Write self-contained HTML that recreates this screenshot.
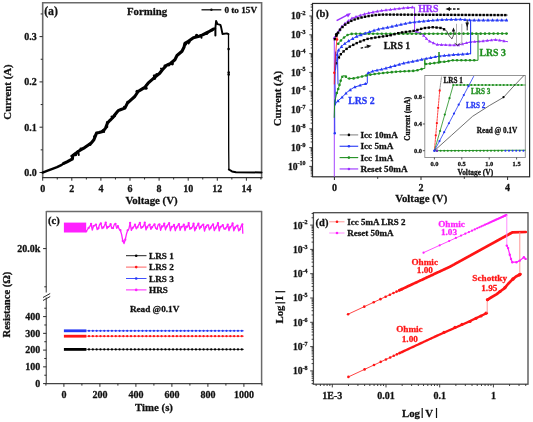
<!DOCTYPE html>
<html><head><meta charset="utf-8"><style>
html,body{margin:0;padding:0;background:#fff;}
svg{display:block;filter:blur(0.35px);font-family:"Liberation Serif",serif;font-weight:bold;}
text{stroke-width:0.28px;}
</style></head><body>
<svg width="533" height="422" viewBox="0 0 533 422">
<rect width="533" height="422" fill="#fff"/>
<line x1="42.7" y1="2.8" x2="261.6" y2="2.8" stroke="#6a6a6a" stroke-width="1.6" />
<line x1="42.7" y1="2" x2="42.7" y2="177.5" stroke="#6a6a6a" stroke-width="1.6" />
<line x1="261.6" y1="2" x2="261.6" y2="178.1" stroke="#6a6a6a" stroke-width="1.6" />
<line x1="42.1" y1="177.5" x2="262.4" y2="177.5" stroke="#333" stroke-width="1.25" />
<line x1="42.7" y1="177.5" x2="42.7" y2="180.7" stroke="#2a2a2a" stroke-width="1" />
<text x="42.7" y="191.6" font-size="10" text-anchor="middle" fill="#111" stroke="#111" >0</text>
<line x1="57.25" y1="177.5" x2="57.25" y2="179.5" stroke="#2a2a2a" stroke-width="1" />
<line x1="71.8" y1="177.5" x2="71.8" y2="180.7" stroke="#2a2a2a" stroke-width="1" />
<text x="71.8" y="191.6" font-size="10" text-anchor="middle" fill="#111" stroke="#111" >2</text>
<line x1="86.35" y1="177.5" x2="86.35" y2="179.5" stroke="#2a2a2a" stroke-width="1" />
<line x1="100.9" y1="177.5" x2="100.9" y2="180.7" stroke="#2a2a2a" stroke-width="1" />
<text x="100.9" y="191.6" font-size="10" text-anchor="middle" fill="#111" stroke="#111" >4</text>
<line x1="115.45" y1="177.5" x2="115.45" y2="179.5" stroke="#2a2a2a" stroke-width="1" />
<line x1="130" y1="177.5" x2="130" y2="180.7" stroke="#2a2a2a" stroke-width="1" />
<text x="130" y="191.6" font-size="10" text-anchor="middle" fill="#111" stroke="#111" >6</text>
<line x1="144.55" y1="177.5" x2="144.55" y2="179.5" stroke="#2a2a2a" stroke-width="1" />
<line x1="159.1" y1="177.5" x2="159.1" y2="180.7" stroke="#2a2a2a" stroke-width="1" />
<text x="159.1" y="191.6" font-size="10" text-anchor="middle" fill="#111" stroke="#111" >8</text>
<line x1="173.65" y1="177.5" x2="173.65" y2="179.5" stroke="#2a2a2a" stroke-width="1" />
<line x1="188.2" y1="177.5" x2="188.2" y2="180.7" stroke="#2a2a2a" stroke-width="1" />
<text x="188.2" y="191.6" font-size="10" text-anchor="middle" fill="#111" stroke="#111" >10</text>
<line x1="202.75" y1="177.5" x2="202.75" y2="179.5" stroke="#2a2a2a" stroke-width="1" />
<line x1="217.3" y1="177.5" x2="217.3" y2="180.7" stroke="#2a2a2a" stroke-width="1" />
<text x="217.3" y="191.6" font-size="10" text-anchor="middle" fill="#111" stroke="#111" >12</text>
<line x1="231.85" y1="177.5" x2="231.85" y2="179.5" stroke="#2a2a2a" stroke-width="1" />
<line x1="246.4" y1="177.5" x2="246.4" y2="180.7" stroke="#2a2a2a" stroke-width="1" />
<text x="246.4" y="191.6" font-size="10" text-anchor="middle" fill="#111" stroke="#111" >14</text>
<line x1="260.95" y1="177.5" x2="260.95" y2="179.5" stroke="#2a2a2a" stroke-width="1" />
<line x1="39.5" y1="172.5" x2="42.7" y2="172.5" stroke="#2a2a2a" stroke-width="1" />
<text x="36.7" y="175.8" font-size="10" text-anchor="end" fill="#111" stroke="#111" >0.0</text>
<line x1="40.7" y1="149.85" x2="42.7" y2="149.85" stroke="#2a2a2a" stroke-width="1" />
<line x1="39.5" y1="127.2" x2="42.7" y2="127.2" stroke="#2a2a2a" stroke-width="1" />
<text x="36.7" y="130.5" font-size="10" text-anchor="end" fill="#111" stroke="#111" >0.1</text>
<line x1="40.7" y1="104.55" x2="42.7" y2="104.55" stroke="#2a2a2a" stroke-width="1" />
<line x1="39.5" y1="81.9" x2="42.7" y2="81.9" stroke="#2a2a2a" stroke-width="1" />
<text x="36.7" y="85.2" font-size="10" text-anchor="end" fill="#111" stroke="#111" >0.2</text>
<line x1="40.7" y1="59.25" x2="42.7" y2="59.25" stroke="#2a2a2a" stroke-width="1" />
<line x1="39.5" y1="36.6" x2="42.7" y2="36.6" stroke="#2a2a2a" stroke-width="1" />
<text x="36.7" y="39.9" font-size="10" text-anchor="end" fill="#111" stroke="#111" >0.3</text>
<line x1="40.7" y1="13.95" x2="42.7" y2="13.95" stroke="#2a2a2a" stroke-width="1" />
<text x="44.2" y="15" font-size="11.8" text-anchor="start" fill="#111" stroke="#111" >(a)</text>
<text x="127" y="14.8" font-size="10.8" text-anchor="start" fill="#111" stroke="#111" >Forming</text>
<line x1="201.5" y1="9.8" x2="221.3" y2="9.8" stroke="#111" stroke-width="1.3" />
<circle cx="211.4" cy="9.8" r="1.2" fill="#111"/>
<text x="224.4" y="13" font-size="9.2" text-anchor="start" fill="#111" stroke="#111" >0 to 15V</text>
<text x="151.5" y="203.6" font-size="10.8" text-anchor="middle" fill="#111" stroke="#111" >Voltage (V)</text>
<text transform="translate(11.4,92.0) rotate(-90)" font-size="10.8" text-anchor="middle" fill="#111" stroke="#111">Current (A)</text>
<polyline points="42.6,172.6 47,170.9 53.1,168.6 57,167.2 61.7,164.9 63.7,163.4" fill="none" stroke="#000" stroke-width="2.4" stroke-linejoin="round" stroke-linecap="round" />
<polyline points="63.7,163.4 67,161.8 70.2,160.1 72.2,159.2 72.9,155.5 75.5,153.6 78.1,151.5 81,149.7 84.7,147.6 88,145.3 91.2,143 93.9,139.7 96.5,133.1 99,132.6 101.8,131.8 104.4,129.6 105.7,127.9 107.5,123 110,120.3 112.4,118 115.5,114 118.2,110.6 121,109.5 124.9,108.1 127.4,103.1 131,99.8 134.8,96.5 138.1,91.5 141.5,89.4 144.8,87.4 148.1,83.2 151.5,80.2 154.7,77.4 159.7,73.3 162.2,70 166.4,65.4 170.7,63.3 174.9,59.7 177,55.5 182,51.2 184.1,47 184.9,43.4 188.4,41.3 193.4,37.7 199.1,36.3 202.6,34.9 208.3,32 213.3,29.2" fill="none" stroke="#000" stroke-width="3.1" stroke-linejoin="round" stroke-linecap="round" />
<polyline points="213.3,29.2 215.4,27.8 216.1,20.9 217.5,24.2 220.4,24.9 221.1,27.1 222.5,34 226.8,33.4 228.5,34.2" fill="none" stroke="#000" stroke-width="1.9" stroke-linejoin="round" stroke-linecap="round" />
<circle cx="71.56" cy="156.04" r="1.2634693762442875" fill="#000"/>
<circle cx="75.35" cy="154.43" r="1.8875353945591447" fill="#000"/>
<circle cx="80.76" cy="148.77" r="1.221057812457352" fill="#000"/>
<circle cx="89.91" cy="144.45" r="1.6637146723232576" fill="#000"/>
<circle cx="94.29" cy="136.51" r="1.249156449691948" fill="#000"/>
<circle cx="103.95" cy="131.87" r="1.2511268406835885" fill="#000"/>
<circle cx="107.05" cy="126.65" r="1.261000938846519" fill="#000"/>
<circle cx="107.24" cy="122.16" r="1.2419253820587537" fill="#000"/>
<circle cx="114.49" cy="116" r="1.4945289320724946" fill="#000"/>
<circle cx="127.58" cy="102.11" r="1.263082021073351" fill="#000"/>
<circle cx="137.17" cy="91.54" r="1.7175970728716559" fill="#000"/>
<circle cx="144.57" cy="87.9" r="1.2726877769554636" fill="#000"/>
<circle cx="145.96" cy="88.18" r="1.6932056223908638" fill="#000"/>
<circle cx="154.45" cy="78.07" r="1.8421521249448025" fill="#000"/>
<circle cx="154.29" cy="75.86" r="1.5119938639875115" fill="#000"/>
<circle cx="156.74" cy="74.48" r="1.6005185960318564" fill="#000"/>
<circle cx="164.73" cy="65.63" r="1.2125259379472957" fill="#000"/>
<circle cx="168.77" cy="64.69" r="1.7113485866616975" fill="#000"/>
<circle cx="172.34" cy="63.86" r="1.5822667513597244" fill="#000"/>
<circle cx="185.47" cy="43.98" r="1.7145267060839349" fill="#000"/>
<circle cx="189.05" cy="41.76" r="1.6208996851847512" fill="#000"/>
<circle cx="196.63" cy="35.4" r="1.6746958853917617" fill="#000"/>
<circle cx="206.61" cy="33.42" r="1.5016266976490587" fill="#000"/>
<circle cx="211.88" cy="30.28" r="1.2953234284683086" fill="#000"/>
<polyline points="228.5,34.2 228.7,150 228.9,169.7" fill="none" stroke="#000" stroke-width="1.3" stroke-linejoin="round" stroke-linecap="round" />
<polyline points="228.9,169.5 232,171.4 236,172.3 261.5,172.4" fill="none" stroke="#000" stroke-width="2.0" stroke-linejoin="round" stroke-linecap="round" />
<polyline points="215.4,28.5 215.4,35.6" fill="none" stroke="#000" stroke-width="2.0" stroke-linejoin="round" stroke-linecap="round" />
<polyline points="78.1,151.5 78.8,155" fill="none" stroke="#000" stroke-width="2.0" stroke-linejoin="round" stroke-linecap="round" />
<polyline points="71,159.6 72.5,157.8" fill="none" stroke="#000" stroke-width="2.0" stroke-linejoin="round" stroke-linecap="round" />
<polyline points="112.4,118 111.5,116.5" fill="none" stroke="#000" stroke-width="2.0" stroke-linejoin="round" stroke-linecap="round" />
<polyline points="162.2,70 161,68.5" fill="none" stroke="#000" stroke-width="2.0" stroke-linejoin="round" stroke-linecap="round" />
<polyline points="124.9,108.1 124,106.8" fill="none" stroke="#000" stroke-width="2.0" stroke-linejoin="round" stroke-linecap="round" />
<polyline points="96.5,133.5 95.5,135" fill="none" stroke="#000" stroke-width="2.0" stroke-linejoin="round" stroke-linecap="round" />
<polyline points="201,35.8 201.5,37.8" fill="none" stroke="#000" stroke-width="2.0" stroke-linejoin="round" stroke-linecap="round" />
<polyline points="188,41.5 188.6,43.5" fill="none" stroke="#000" stroke-width="2.0" stroke-linejoin="round" stroke-linecap="round" />
<polyline points="146,86 146.8,84.5" fill="none" stroke="#000" stroke-width="2.0" stroke-linejoin="round" stroke-linecap="round" />
<circle cx="228.6" cy="49.1" r="1.3" fill="#000"/>
<circle cx="228.7" cy="72.5" r="1.3" fill="#000"/>
<circle cx="228.7" cy="74.5" r="1.3" fill="#000"/>
<circle cx="103.6" cy="130.3" r="1.3" fill="#000"/>
<circle cx="72.6" cy="158.3" r="1.3" fill="#000"/>
<rect x="312.5" y="3.45" width="217.1" height="173.35" fill="none" stroke="#2a2a2a" stroke-width="1.2"/>
<line x1="334.4" y1="176.8" x2="334.4" y2="180" stroke="#2a2a2a" stroke-width="1" />
<text x="334.4" y="191.2" font-size="10" text-anchor="middle" fill="#111" stroke="#111" >0</text>
<line x1="377.7" y1="176.8" x2="377.7" y2="178.8" stroke="#2a2a2a" stroke-width="1" />
<line x1="421" y1="176.8" x2="421" y2="180" stroke="#2a2a2a" stroke-width="1" />
<text x="421" y="191.2" font-size="10" text-anchor="middle" fill="#111" stroke="#111" >2</text>
<line x1="464.3" y1="176.8" x2="464.3" y2="178.8" stroke="#2a2a2a" stroke-width="1" />
<line x1="507.6" y1="176.8" x2="507.6" y2="180" stroke="#2a2a2a" stroke-width="1" />
<text x="507.6" y="191.2" font-size="10" text-anchor="middle" fill="#111" stroke="#111" >4</text>
<line x1="310.7" y1="176.23" x2="312.5" y2="176.23" stroke="#2a2a2a" stroke-width="0.9" />
<line x1="310.7" y1="173.88" x2="312.5" y2="173.88" stroke="#2a2a2a" stroke-width="0.9" />
<line x1="310.7" y1="172.06" x2="312.5" y2="172.06" stroke="#2a2a2a" stroke-width="0.9" />
<line x1="310.7" y1="170.57" x2="312.5" y2="170.57" stroke="#2a2a2a" stroke-width="0.9" />
<line x1="310.7" y1="169.31" x2="312.5" y2="169.31" stroke="#2a2a2a" stroke-width="0.9" />
<line x1="310.7" y1="168.22" x2="312.5" y2="168.22" stroke="#2a2a2a" stroke-width="0.9" />
<line x1="310.7" y1="167.26" x2="312.5" y2="167.26" stroke="#2a2a2a" stroke-width="0.9" />
<line x1="309.3" y1="166.4" x2="312.5" y2="166.4" stroke="#2a2a2a" stroke-width="0.9" />
<line x1="310.7" y1="160.74" x2="312.5" y2="160.74" stroke="#2a2a2a" stroke-width="0.9" />
<line x1="310.7" y1="157.43" x2="312.5" y2="157.43" stroke="#2a2a2a" stroke-width="0.9" />
<line x1="310.7" y1="155.08" x2="312.5" y2="155.08" stroke="#2a2a2a" stroke-width="0.9" />
<line x1="310.7" y1="153.26" x2="312.5" y2="153.26" stroke="#2a2a2a" stroke-width="0.9" />
<line x1="310.7" y1="151.77" x2="312.5" y2="151.77" stroke="#2a2a2a" stroke-width="0.9" />
<line x1="310.7" y1="150.51" x2="312.5" y2="150.51" stroke="#2a2a2a" stroke-width="0.9" />
<line x1="310.7" y1="149.42" x2="312.5" y2="149.42" stroke="#2a2a2a" stroke-width="0.9" />
<line x1="310.7" y1="148.46" x2="312.5" y2="148.46" stroke="#2a2a2a" stroke-width="0.9" />
<line x1="309.3" y1="147.6" x2="312.5" y2="147.6" stroke="#2a2a2a" stroke-width="0.9" />
<line x1="310.7" y1="141.94" x2="312.5" y2="141.94" stroke="#2a2a2a" stroke-width="0.9" />
<line x1="310.7" y1="138.63" x2="312.5" y2="138.63" stroke="#2a2a2a" stroke-width="0.9" />
<line x1="310.7" y1="136.28" x2="312.5" y2="136.28" stroke="#2a2a2a" stroke-width="0.9" />
<line x1="310.7" y1="134.46" x2="312.5" y2="134.46" stroke="#2a2a2a" stroke-width="0.9" />
<line x1="310.7" y1="132.97" x2="312.5" y2="132.97" stroke="#2a2a2a" stroke-width="0.9" />
<line x1="310.7" y1="131.71" x2="312.5" y2="131.71" stroke="#2a2a2a" stroke-width="0.9" />
<line x1="310.7" y1="130.62" x2="312.5" y2="130.62" stroke="#2a2a2a" stroke-width="0.9" />
<line x1="310.7" y1="129.66" x2="312.5" y2="129.66" stroke="#2a2a2a" stroke-width="0.9" />
<line x1="309.3" y1="128.8" x2="312.5" y2="128.8" stroke="#2a2a2a" stroke-width="0.9" />
<line x1="310.7" y1="123.14" x2="312.5" y2="123.14" stroke="#2a2a2a" stroke-width="0.9" />
<line x1="310.7" y1="119.83" x2="312.5" y2="119.83" stroke="#2a2a2a" stroke-width="0.9" />
<line x1="310.7" y1="117.48" x2="312.5" y2="117.48" stroke="#2a2a2a" stroke-width="0.9" />
<line x1="310.7" y1="115.66" x2="312.5" y2="115.66" stroke="#2a2a2a" stroke-width="0.9" />
<line x1="310.7" y1="114.17" x2="312.5" y2="114.17" stroke="#2a2a2a" stroke-width="0.9" />
<line x1="310.7" y1="112.91" x2="312.5" y2="112.91" stroke="#2a2a2a" stroke-width="0.9" />
<line x1="310.7" y1="111.82" x2="312.5" y2="111.82" stroke="#2a2a2a" stroke-width="0.9" />
<line x1="310.7" y1="110.86" x2="312.5" y2="110.86" stroke="#2a2a2a" stroke-width="0.9" />
<line x1="309.3" y1="110" x2="312.5" y2="110" stroke="#2a2a2a" stroke-width="0.9" />
<line x1="310.7" y1="104.34" x2="312.5" y2="104.34" stroke="#2a2a2a" stroke-width="0.9" />
<line x1="310.7" y1="101.03" x2="312.5" y2="101.03" stroke="#2a2a2a" stroke-width="0.9" />
<line x1="310.7" y1="98.68" x2="312.5" y2="98.68" stroke="#2a2a2a" stroke-width="0.9" />
<line x1="310.7" y1="96.86" x2="312.5" y2="96.86" stroke="#2a2a2a" stroke-width="0.9" />
<line x1="310.7" y1="95.37" x2="312.5" y2="95.37" stroke="#2a2a2a" stroke-width="0.9" />
<line x1="310.7" y1="94.11" x2="312.5" y2="94.11" stroke="#2a2a2a" stroke-width="0.9" />
<line x1="310.7" y1="93.02" x2="312.5" y2="93.02" stroke="#2a2a2a" stroke-width="0.9" />
<line x1="310.7" y1="92.06" x2="312.5" y2="92.06" stroke="#2a2a2a" stroke-width="0.9" />
<line x1="309.3" y1="91.2" x2="312.5" y2="91.2" stroke="#2a2a2a" stroke-width="0.9" />
<line x1="310.7" y1="85.54" x2="312.5" y2="85.54" stroke="#2a2a2a" stroke-width="0.9" />
<line x1="310.7" y1="82.23" x2="312.5" y2="82.23" stroke="#2a2a2a" stroke-width="0.9" />
<line x1="310.7" y1="79.88" x2="312.5" y2="79.88" stroke="#2a2a2a" stroke-width="0.9" />
<line x1="310.7" y1="78.06" x2="312.5" y2="78.06" stroke="#2a2a2a" stroke-width="0.9" />
<line x1="310.7" y1="76.57" x2="312.5" y2="76.57" stroke="#2a2a2a" stroke-width="0.9" />
<line x1="310.7" y1="75.31" x2="312.5" y2="75.31" stroke="#2a2a2a" stroke-width="0.9" />
<line x1="310.7" y1="74.22" x2="312.5" y2="74.22" stroke="#2a2a2a" stroke-width="0.9" />
<line x1="310.7" y1="73.26" x2="312.5" y2="73.26" stroke="#2a2a2a" stroke-width="0.9" />
<line x1="309.3" y1="72.4" x2="312.5" y2="72.4" stroke="#2a2a2a" stroke-width="0.9" />
<line x1="310.7" y1="66.74" x2="312.5" y2="66.74" stroke="#2a2a2a" stroke-width="0.9" />
<line x1="310.7" y1="63.43" x2="312.5" y2="63.43" stroke="#2a2a2a" stroke-width="0.9" />
<line x1="310.7" y1="61.08" x2="312.5" y2="61.08" stroke="#2a2a2a" stroke-width="0.9" />
<line x1="310.7" y1="59.26" x2="312.5" y2="59.26" stroke="#2a2a2a" stroke-width="0.9" />
<line x1="310.7" y1="57.77" x2="312.5" y2="57.77" stroke="#2a2a2a" stroke-width="0.9" />
<line x1="310.7" y1="56.51" x2="312.5" y2="56.51" stroke="#2a2a2a" stroke-width="0.9" />
<line x1="310.7" y1="55.42" x2="312.5" y2="55.42" stroke="#2a2a2a" stroke-width="0.9" />
<line x1="310.7" y1="54.46" x2="312.5" y2="54.46" stroke="#2a2a2a" stroke-width="0.9" />
<line x1="309.3" y1="53.6" x2="312.5" y2="53.6" stroke="#2a2a2a" stroke-width="0.9" />
<line x1="310.7" y1="47.94" x2="312.5" y2="47.94" stroke="#2a2a2a" stroke-width="0.9" />
<line x1="310.7" y1="44.63" x2="312.5" y2="44.63" stroke="#2a2a2a" stroke-width="0.9" />
<line x1="310.7" y1="42.28" x2="312.5" y2="42.28" stroke="#2a2a2a" stroke-width="0.9" />
<line x1="310.7" y1="40.46" x2="312.5" y2="40.46" stroke="#2a2a2a" stroke-width="0.9" />
<line x1="310.7" y1="38.97" x2="312.5" y2="38.97" stroke="#2a2a2a" stroke-width="0.9" />
<line x1="310.7" y1="37.71" x2="312.5" y2="37.71" stroke="#2a2a2a" stroke-width="0.9" />
<line x1="310.7" y1="36.62" x2="312.5" y2="36.62" stroke="#2a2a2a" stroke-width="0.9" />
<line x1="310.7" y1="35.66" x2="312.5" y2="35.66" stroke="#2a2a2a" stroke-width="0.9" />
<line x1="309.3" y1="34.8" x2="312.5" y2="34.8" stroke="#2a2a2a" stroke-width="0.9" />
<line x1="310.7" y1="29.14" x2="312.5" y2="29.14" stroke="#2a2a2a" stroke-width="0.9" />
<line x1="310.7" y1="25.83" x2="312.5" y2="25.83" stroke="#2a2a2a" stroke-width="0.9" />
<line x1="310.7" y1="23.48" x2="312.5" y2="23.48" stroke="#2a2a2a" stroke-width="0.9" />
<line x1="310.7" y1="21.66" x2="312.5" y2="21.66" stroke="#2a2a2a" stroke-width="0.9" />
<line x1="310.7" y1="20.17" x2="312.5" y2="20.17" stroke="#2a2a2a" stroke-width="0.9" />
<line x1="310.7" y1="18.91" x2="312.5" y2="18.91" stroke="#2a2a2a" stroke-width="0.9" />
<line x1="310.7" y1="17.82" x2="312.5" y2="17.82" stroke="#2a2a2a" stroke-width="0.9" />
<line x1="310.7" y1="16.86" x2="312.5" y2="16.86" stroke="#2a2a2a" stroke-width="0.9" />
<line x1="309.3" y1="16" x2="312.5" y2="16" stroke="#2a2a2a" stroke-width="0.9" />
<line x1="310.7" y1="10.34" x2="312.5" y2="10.34" stroke="#2a2a2a" stroke-width="0.9" />
<line x1="310.7" y1="7.03" x2="312.5" y2="7.03" stroke="#2a2a2a" stroke-width="0.9" />
<line x1="310.7" y1="4.68" x2="312.5" y2="4.68" stroke="#2a2a2a" stroke-width="0.9" />
<text x="305.5" y="19.2" font-size="9.6" text-anchor="end" fill="#111" stroke="#111">10<tspan font-size="6" dy="-4.2">-2</tspan></text>
<text x="305.5" y="38" font-size="9.6" text-anchor="end" fill="#111" stroke="#111">10<tspan font-size="6" dy="-4.2">-3</tspan></text>
<text x="305.5" y="56.8" font-size="9.6" text-anchor="end" fill="#111" stroke="#111">10<tspan font-size="6" dy="-4.2">-4</tspan></text>
<text x="305.5" y="75.6" font-size="9.6" text-anchor="end" fill="#111" stroke="#111">10<tspan font-size="6" dy="-4.2">-5</tspan></text>
<text x="305.5" y="94.4" font-size="9.6" text-anchor="end" fill="#111" stroke="#111">10<tspan font-size="6" dy="-4.2">-6</tspan></text>
<text x="305.5" y="113.2" font-size="9.6" text-anchor="end" fill="#111" stroke="#111">10<tspan font-size="6" dy="-4.2">-7</tspan></text>
<text x="305.5" y="132" font-size="9.6" text-anchor="end" fill="#111" stroke="#111">10<tspan font-size="6" dy="-4.2">-8</tspan></text>
<text x="305.5" y="150.8" font-size="9.6" text-anchor="end" fill="#111" stroke="#111">10<tspan font-size="6" dy="-4.2">-9</tspan></text>
<text x="305.5" y="169.6" font-size="9.6" text-anchor="end" fill="#111" stroke="#111">10<tspan font-size="6" dy="-4.2">-10</tspan></text>
<text x="316" y="17.4" font-size="10.5" text-anchor="start" fill="#111" stroke="#111" >(b)</text>
<text x="418.2" y="12.3" font-size="9.8" text-anchor="start" fill="#9a30ff" stroke="#9a30ff" >HRS</text>
<text x="383.8" y="48.8" font-size="9.8" text-anchor="start" fill="#111" stroke="#111" >LRS 1</text>
<text x="479.4" y="56" font-size="9.8" text-anchor="start" fill="#1f8f1f" stroke="#1f8f1f" >LRS 3</text>
<text x="348.2" y="104.2" font-size="9.8" text-anchor="start" fill="#2538f5" stroke="#2538f5" >LRS 2</text>
<text x="421.2" y="202.4" font-size="10.8" text-anchor="middle" fill="#111" stroke="#111" >Voltage (V)</text>
<text transform="translate(280.6,98.6) rotate(-90)" font-size="10.8" text-anchor="middle" fill="#111" stroke="#111">Current (A)</text>
<line x1="336.6" y1="20.6" x2="348.5" y2="14.3" stroke="#9a30ff" stroke-width="1.5" />
<polygon points="351,13 346,14 348,17.5" fill="#9a30ff"/>
<line x1="360.7" y1="48.2" x2="367" y2="46.8" stroke="#111" stroke-width="1.3" stroke-dasharray="2.5,1.5"/>
<polygon points="371.5,45.8 366.5,44.6 367.5,48.3" fill="#111"/>
<line x1="449" y1="9" x2="461" y2="9" stroke="#111" stroke-width="1.3" stroke-dasharray="2.5,1.5"/>
<polygon points="445.5,9 450,7 450,11" fill="#111"/>
<line x1="334.3" y1="37" x2="334.3" y2="176.8" stroke="#9a30ff" stroke-width="0.9" />
<polyline points="334.5,37.7 336.3,34.5 338.4,31.5 342.4,25.8 346.9,21.9 352.5,18 359.3,15.7 367.2,13.4 375,11.8 381.8,10.6 390,9.7 395,9 405,7.9 413.5,7.3 414.6,7.4 414.6,30.8 422.3,34 428.3,40.6 436.8,44.6 447.3,45 457.8,45.2 463,43.9 470,42 481.2,41.3 495.2,39.7 501,40.5 507.6,41.7" fill="none" stroke="#9a30ff" stroke-width="1.0" stroke-linejoin="round" stroke-linecap="round" />
<polygon points="334.5,35.83 332.77,38.9 336.23,38.9" fill="#9a30ff"/>
<polygon points="336.72,32.03 334.99,35.1 338.44,35.1" fill="#9a30ff"/>
<polygon points="339.24,28.42 337.52,31.5 340.97,31.5" fill="#9a30ff"/>
<polygon points="341.77,24.82 340.04,27.9 343.49,27.9" fill="#9a30ff"/>
<polygon points="344.9,21.76 343.17,24.84 346.62,24.84" fill="#9a30ff"/>
<polygon points="348.33,19.03 346.61,22.1 350.06,22.1" fill="#9a30ff"/>
<polygon points="351.95,16.51 350.22,19.59 353.67,19.59" fill="#9a30ff"/>
<polygon points="356.03,14.93 354.3,18.01 357.75,18.01" fill="#9a30ff"/>
<polygon points="360.21,13.56 358.48,16.64 361.93,16.64" fill="#9a30ff"/>
<polygon points="364.43,12.33 362.71,15.41 366.16,15.41" fill="#9a30ff"/>
<polygon points="368.69,11.22 366.96,14.3 370.41,14.3" fill="#9a30ff"/>
<polygon points="373,10.34 371.27,13.41 374.72,13.41" fill="#9a30ff"/>
<polygon points="377.32,9.52 375.59,12.59 379.04,12.59" fill="#9a30ff"/>
<polygon points="381.65,8.75 379.93,11.83 383.38,11.83" fill="#9a30ff"/>
<polygon points="386.02,8.26 384.3,11.34 387.75,11.34" fill="#9a30ff"/>
<polygon points="390.4,7.77 388.67,10.84 392.12,10.84" fill="#9a30ff"/>
<polygon points="394.75,7.16 393.03,10.23 396.48,10.23" fill="#9a30ff"/>
<polygon points="399.13,6.67 397.4,9.75 400.85,9.75" fill="#9a30ff"/>
<polygon points="403.5,6.19 401.78,9.26 405.23,9.26" fill="#9a30ff"/>
<polygon points="407.88,5.82 406.16,8.9 409.61,8.9" fill="#9a30ff"/>
<polygon points="412.27,5.51 410.55,8.59 414,8.59" fill="#9a30ff"/>
<polygon points="416.45,29.82 414.84,32.69 418.06,32.69" fill="#9a30ff"/>
<polygon points="420.33,31.43 418.72,34.3 421.94,34.3" fill="#9a30ff"/>
<polygon points="423.69,33.78 422.08,36.65 425.3,36.65" fill="#9a30ff"/>
<polygon points="426.51,36.88 424.9,39.75 428.12,39.75" fill="#9a30ff"/>
<polygon points="429.7,39.51 428.09,42.38 431.31,42.38" fill="#9a30ff"/>
<polygon points="433.5,41.29 431.89,44.16 435.11,44.16" fill="#9a30ff"/>
<polygon points="437.35,42.87 435.74,45.74 438.96,45.74" fill="#9a30ff"/>
<polygon points="441.54,43.03 439.93,45.9 443.15,45.9" fill="#9a30ff"/>
<polygon points="445.74,43.19 444.13,46.06 447.35,46.06" fill="#9a30ff"/>
<polygon points="449.94,43.3 448.33,46.17 451.55,46.17" fill="#9a30ff"/>
<polygon points="454.14,43.38 452.53,46.25 455.75,46.25" fill="#9a30ff"/>
<polygon points="458.32,43.32 456.71,46.19 459.93,46.19" fill="#9a30ff"/>
<polygon points="462.4,42.3 460.79,45.17 464.01,45.17" fill="#9a30ff"/>
<polygon points="466.45,41.21 464.84,44.08 468.06,44.08" fill="#9a30ff"/>
<polygon points="470.52,40.22 468.91,43.09 472.13,43.09" fill="#9a30ff"/>
<polygon points="474.72,39.96 473.11,42.83 476.33,42.83" fill="#9a30ff"/>
<polygon points="478.91,39.69 477.3,42.56 480.52,42.56" fill="#9a30ff"/>
<polygon points="483.09,39.33 481.48,42.2 484.7,42.2" fill="#9a30ff"/>
<polygon points="487.26,38.86 485.65,41.73 488.87,41.73" fill="#9a30ff"/>
<polygon points="491.44,38.38 489.83,41.25 493.05,41.25" fill="#9a30ff"/>
<polygon points="495.61,38.01 494,40.88 497.22,40.88" fill="#9a30ff"/>
<polygon points="499.77,38.58 498.16,41.45 501.38,41.45" fill="#9a30ff"/>
<polygon points="503.91,39.28 502.3,42.15 505.52,42.15" fill="#9a30ff"/>
<polyline points="334.5,40 336.8,34.8 340.7,28.6 345.8,24.1 352.5,20.2 359.3,18 367.2,16.3 375,15.1 381.8,14.6 390,14.6 507.6,15.1" fill="none" stroke="#666" stroke-width="0.8" stroke-linejoin="round" stroke-linecap="round" />
<rect x="333.7" y="37.89" width="2.4" height="2.4" fill="#000"/>
<rect x="335.16" y="34.59" width="2.4" height="2.4" fill="#000"/>
<rect x="336.94" y="31.47" width="2.4" height="2.4" fill="#000"/>
<rect x="338.86" y="28.42" width="2.4" height="2.4" fill="#000"/>
<rect x="341.29" y="25.82" width="2.4" height="2.4" fill="#000"/>
<rect x="343.99" y="23.44" width="2.4" height="2.4" fill="#000"/>
<rect x="347.01" y="21.5" width="2.4" height="2.4" fill="#000"/>
<rect x="350.12" y="19.69" width="2.4" height="2.4" fill="#000"/>
<rect x="353.43" y="18.31" width="2.4" height="2.4" fill="#000"/>
<rect x="356.85" y="17.2" width="2.4" height="2.4" fill="#000"/>
<rect x="360.34" y="16.32" width="2.4" height="2.4" fill="#000"/>
<rect x="363.86" y="15.56" width="2.4" height="2.4" fill="#000"/>
<rect x="367.39" y="14.89" width="2.4" height="2.4" fill="#000"/>
<rect x="370.95" y="14.34" width="2.4" height="2.4" fill="#000"/>
<rect x="374.51" y="13.85" width="2.4" height="2.4" fill="#000"/>
<rect x="378.1" y="13.58" width="2.4" height="2.4" fill="#000"/>
<rect x="381.7" y="13.4" width="2.4" height="2.4" fill="#000"/>
<rect x="385.3" y="13.4" width="2.4" height="2.4" fill="#000"/>
<rect x="388.9" y="13.4" width="2.4" height="2.4" fill="#000"/>
<rect x="392.5" y="13.42" width="2.4" height="2.4" fill="#000"/>
<rect x="396.1" y="13.43" width="2.4" height="2.4" fill="#000"/>
<rect x="399.7" y="13.45" width="2.4" height="2.4" fill="#000"/>
<rect x="403.3" y="13.46" width="2.4" height="2.4" fill="#000"/>
<rect x="406.9" y="13.48" width="2.4" height="2.4" fill="#000"/>
<rect x="410.5" y="13.49" width="2.4" height="2.4" fill="#000"/>
<rect x="414.1" y="13.51" width="2.4" height="2.4" fill="#000"/>
<rect x="417.7" y="13.52" width="2.4" height="2.4" fill="#000"/>
<rect x="421.3" y="13.54" width="2.4" height="2.4" fill="#000"/>
<rect x="424.9" y="13.55" width="2.4" height="2.4" fill="#000"/>
<rect x="428.5" y="13.57" width="2.4" height="2.4" fill="#000"/>
<rect x="432.1" y="13.58" width="2.4" height="2.4" fill="#000"/>
<rect x="435.7" y="13.6" width="2.4" height="2.4" fill="#000"/>
<rect x="439.3" y="13.61" width="2.4" height="2.4" fill="#000"/>
<rect x="442.9" y="13.63" width="2.4" height="2.4" fill="#000"/>
<rect x="446.5" y="13.65" width="2.4" height="2.4" fill="#000"/>
<rect x="450.1" y="13.66" width="2.4" height="2.4" fill="#000"/>
<rect x="453.7" y="13.68" width="2.4" height="2.4" fill="#000"/>
<rect x="457.3" y="13.69" width="2.4" height="2.4" fill="#000"/>
<rect x="460.9" y="13.71" width="2.4" height="2.4" fill="#000"/>
<rect x="464.5" y="13.72" width="2.4" height="2.4" fill="#000"/>
<rect x="468.1" y="13.74" width="2.4" height="2.4" fill="#000"/>
<rect x="471.7" y="13.75" width="2.4" height="2.4" fill="#000"/>
<rect x="475.3" y="13.77" width="2.4" height="2.4" fill="#000"/>
<rect x="478.9" y="13.78" width="2.4" height="2.4" fill="#000"/>
<rect x="482.5" y="13.8" width="2.4" height="2.4" fill="#000"/>
<rect x="486.1" y="13.81" width="2.4" height="2.4" fill="#000"/>
<rect x="489.7" y="13.83" width="2.4" height="2.4" fill="#000"/>
<rect x="493.3" y="13.84" width="2.4" height="2.4" fill="#000"/>
<rect x="496.9" y="13.86" width="2.4" height="2.4" fill="#000"/>
<rect x="500.5" y="13.87" width="2.4" height="2.4" fill="#000"/>
<rect x="504.1" y="13.89" width="2.4" height="2.4" fill="#000"/>
<circle cx="336.5" cy="34.4" r="1.6" fill="#000"/>
<polyline points="338,44.7 338.4,43.3 342.7,38.5 347.9,34.7 351.5,33.9 355.5,33.8 507.6,33.6" fill="none" stroke="#1f8f1f" stroke-width="0.9" stroke-linejoin="round" stroke-linecap="round" />
<circle cx="338.27" cy="43.74" r="1.3" fill="#1f8f1f"/>
<circle cx="340.96" cy="40.44" r="1.3" fill="#1f8f1f"/>
<circle cx="344.07" cy="37.5" r="1.3" fill="#1f8f1f"/>
<circle cx="347.54" cy="34.96" r="1.3" fill="#1f8f1f"/>
<circle cx="351.67" cy="33.9" r="1.3" fill="#1f8f1f"/>
<circle cx="355.97" cy="33.8" r="1.3" fill="#1f8f1f"/>
<circle cx="360.27" cy="33.79" r="1.3" fill="#1f8f1f"/>
<circle cx="364.57" cy="33.79" r="1.3" fill="#1f8f1f"/>
<circle cx="368.87" cy="33.78" r="1.3" fill="#1f8f1f"/>
<circle cx="373.17" cy="33.78" r="1.3" fill="#1f8f1f"/>
<circle cx="377.47" cy="33.77" r="1.3" fill="#1f8f1f"/>
<circle cx="381.77" cy="33.77" r="1.3" fill="#1f8f1f"/>
<circle cx="386.07" cy="33.76" r="1.3" fill="#1f8f1f"/>
<circle cx="390.37" cy="33.75" r="1.3" fill="#1f8f1f"/>
<circle cx="394.67" cy="33.75" r="1.3" fill="#1f8f1f"/>
<circle cx="398.97" cy="33.74" r="1.3" fill="#1f8f1f"/>
<circle cx="403.27" cy="33.74" r="1.3" fill="#1f8f1f"/>
<circle cx="407.57" cy="33.73" r="1.3" fill="#1f8f1f"/>
<circle cx="411.87" cy="33.73" r="1.3" fill="#1f8f1f"/>
<circle cx="416.17" cy="33.72" r="1.3" fill="#1f8f1f"/>
<circle cx="420.47" cy="33.71" r="1.3" fill="#1f8f1f"/>
<circle cx="424.77" cy="33.71" r="1.3" fill="#1f8f1f"/>
<circle cx="429.07" cy="33.7" r="1.3" fill="#1f8f1f"/>
<circle cx="433.37" cy="33.7" r="1.3" fill="#1f8f1f"/>
<circle cx="437.67" cy="33.69" r="1.3" fill="#1f8f1f"/>
<circle cx="441.97" cy="33.69" r="1.3" fill="#1f8f1f"/>
<circle cx="446.27" cy="33.68" r="1.3" fill="#1f8f1f"/>
<circle cx="450.57" cy="33.67" r="1.3" fill="#1f8f1f"/>
<circle cx="454.87" cy="33.67" r="1.3" fill="#1f8f1f"/>
<circle cx="459.17" cy="33.66" r="1.3" fill="#1f8f1f"/>
<circle cx="463.47" cy="33.66" r="1.3" fill="#1f8f1f"/>
<circle cx="467.77" cy="33.65" r="1.3" fill="#1f8f1f"/>
<circle cx="472.07" cy="33.65" r="1.3" fill="#1f8f1f"/>
<circle cx="476.37" cy="33.64" r="1.3" fill="#1f8f1f"/>
<circle cx="480.67" cy="33.64" r="1.3" fill="#1f8f1f"/>
<circle cx="484.97" cy="33.63" r="1.3" fill="#1f8f1f"/>
<circle cx="489.27" cy="33.62" r="1.3" fill="#1f8f1f"/>
<circle cx="493.57" cy="33.62" r="1.3" fill="#1f8f1f"/>
<circle cx="497.87" cy="33.61" r="1.3" fill="#1f8f1f"/>
<circle cx="502.17" cy="33.61" r="1.3" fill="#1f8f1f"/>
<circle cx="506.47" cy="33.6" r="1.3" fill="#1f8f1f"/>
<polyline points="335.5,70 336.5,61.3 337,55.6 338.4,50.4 342.7,45.2 347.9,41.4 356.4,36.6 367.2,32.6 378.4,29.2 390,27 395,25.8 410,22.6 425,21 440,19.8 460,19.3 470.6,20.2 507.6,20.2" fill="none" stroke="#2538f5" stroke-width="0.9" stroke-linejoin="round" stroke-linecap="round" />
<polygon points="337.26,52.7 335.48,55.87 339.04,55.87" fill="#2538f5"/>
<polygon points="338.54,48.3 336.75,51.47 340.32,51.47" fill="#2538f5"/>
<polygon points="341.47,44.75 339.69,47.93 343.25,47.93" fill="#2538f5"/>
<polygon points="344.85,41.69 343.07,44.87 346.64,44.87" fill="#2538f5"/>
<polygon points="348.62,39.06 346.84,42.23 350.4,42.23" fill="#2538f5"/>
<polygon points="352.63,36.79 350.84,39.97 354.41,39.97" fill="#2538f5"/>
<polygon points="356.65,34.57 354.87,37.75 358.43,37.75" fill="#2538f5"/>
<polygon points="360.96,32.97 359.18,36.15 362.74,36.15" fill="#2538f5"/>
<polygon points="365.28,31.38 363.49,34.55 367.06,34.55" fill="#2538f5"/>
<polygon points="369.64,29.92 367.86,33.1 371.42,33.1" fill="#2538f5"/>
<polygon points="374.04,28.59 372.26,31.76 375.82,31.76" fill="#2538f5"/>
<polygon points="378.44,27.25 376.66,30.43 380.23,30.43" fill="#2538f5"/>
<polygon points="382.96,26.4 381.18,29.57 384.74,29.57" fill="#2538f5"/>
<polygon points="387.48,25.54 385.7,28.72 389.26,28.72" fill="#2538f5"/>
<polygon points="391.98,24.59 390.2,27.76 393.76,27.76" fill="#2538f5"/>
<polygon points="396.46,23.55 394.68,26.73 398.24,26.73" fill="#2538f5"/>
<polygon points="400.96,22.59 399.18,25.77 402.74,25.77" fill="#2538f5"/>
<polygon points="405.46,21.63 403.68,24.81 407.24,24.81" fill="#2538f5"/>
<polygon points="409.96,20.67 408.18,23.85 411.74,23.85" fill="#2538f5"/>
<polygon points="414.53,20.18 412.75,23.36 416.31,23.36" fill="#2538f5"/>
<polygon points="419.11,19.69 417.32,22.87 420.89,22.87" fill="#2538f5"/>
<polygon points="423.68,19.2 421.9,22.38 425.46,22.38" fill="#2538f5"/>
<polygon points="428.26,18.8 426.48,21.98 430.04,21.98" fill="#2538f5"/>
<polygon points="432.85,18.43 431.06,21.61 434.63,21.61" fill="#2538f5"/>
<polygon points="437.43,18.07 435.65,21.25 439.21,21.25" fill="#2538f5"/>
<polygon points="442.02,17.81 440.24,20.99 443.81,20.99" fill="#2538f5"/>
<polygon points="446.62,17.7 444.84,20.87 448.4,20.87" fill="#2538f5"/>
<polygon points="451.22,17.58 449.44,20.76 453,20.76" fill="#2538f5"/>
<polygon points="455.82,17.47 454.04,20.64 457.6,20.64" fill="#2538f5"/>
<polygon points="460.42,17.4 458.63,20.58 462.2,20.58" fill="#2538f5"/>
<polygon points="465,17.79 463.22,20.96 466.78,20.96" fill="#2538f5"/>
<polygon points="469.58,18.18 467.8,21.35 471.37,21.35" fill="#2538f5"/>
<polygon points="474.18,18.26 472.4,21.44 475.96,21.44" fill="#2538f5"/>
<polygon points="478.78,18.26 477,21.44 480.56,21.44" fill="#2538f5"/>
<polygon points="483.38,18.26 481.6,21.44 485.16,21.44" fill="#2538f5"/>
<polygon points="487.98,18.26 486.2,21.44 489.76,21.44" fill="#2538f5"/>
<polygon points="492.58,18.26 490.8,21.44 494.36,21.44" fill="#2538f5"/>
<polygon points="497.18,18.26 495.4,21.44 498.96,21.44" fill="#2538f5"/>
<polygon points="501.78,18.26 500,21.44 503.56,21.44" fill="#2538f5"/>
<polygon points="506.38,18.26 504.6,21.44 508.16,21.44" fill="#2538f5"/>
<polyline points="338.4,58.4 340.8,54.2 345.1,49.9 349.8,46.6 353.6,44.7 358.3,42.3 362.1,40.9 366.9,39 375,37.6 390,35.4 400,32.7 414.5,30.8 423.7,28.1 432.9,27.2 442,28.1 446.6,30.8 449.3,36 451.9,38.7" fill="none" stroke="#444" stroke-width="0.9" stroke-linejoin="round" stroke-linecap="round" />
<rect x="337.7" y="56.33" width="2.4" height="2.4" fill="#000"/>
<rect x="339.64" y="52.96" width="2.4" height="2.4" fill="#000"/>
<rect x="342.4" y="50.2" width="2.4" height="2.4" fill="#000"/>
<rect x="345.36" y="47.68" width="2.4" height="2.4" fill="#000"/>
<rect x="348.55" y="45.44" width="2.4" height="2.4" fill="#000"/>
<rect x="352.03" y="43.68" width="2.4" height="2.4" fill="#000"/>
<rect x="355.51" y="41.91" width="2.4" height="2.4" fill="#000"/>
<rect x="359.08" y="40.37" width="2.4" height="2.4" fill="#000"/>
<rect x="362.73" y="38.98" width="2.4" height="2.4" fill="#000"/>
<rect x="366.39" y="37.68" width="2.4" height="2.4" fill="#000"/>
<rect x="370.23" y="37.02" width="2.4" height="2.4" fill="#000"/>
<rect x="374.08" y="36.36" width="2.4" height="2.4" fill="#000"/>
<rect x="377.94" y="35.79" width="2.4" height="2.4" fill="#000"/>
<rect x="381.8" y="35.23" width="2.4" height="2.4" fill="#000"/>
<rect x="385.65" y="34.66" width="2.4" height="2.4" fill="#000"/>
<rect x="389.5" y="34.01" width="2.4" height="2.4" fill="#000"/>
<rect x="393.26" y="33" width="2.4" height="2.4" fill="#000"/>
<rect x="397.03" y="31.98" width="2.4" height="2.4" fill="#000"/>
<rect x="400.84" y="31.23" width="2.4" height="2.4" fill="#000"/>
<rect x="404.71" y="30.73" width="2.4" height="2.4" fill="#000"/>
<rect x="408.58" y="30.22" width="2.4" height="2.4" fill="#000"/>
<rect x="412.45" y="29.71" width="2.4" height="2.4" fill="#000"/>
<rect x="416.22" y="28.74" width="2.4" height="2.4" fill="#000"/>
<rect x="419.96" y="27.65" width="2.4" height="2.4" fill="#000"/>
<rect x="423.74" y="26.78" width="2.4" height="2.4" fill="#000"/>
<rect x="427.63" y="26.4" width="2.4" height="2.4" fill="#000"/>
<rect x="431.51" y="26.02" width="2.4" height="2.4" fill="#000"/>
<rect x="435.39" y="26.36" width="2.4" height="2.4" fill="#000"/>
<rect x="439.27" y="26.75" width="2.4" height="2.4" fill="#000"/>
<rect x="442.84" y="28.1" width="2.4" height="2.4" fill="#000"/>
<polyline points="338.4,58.4 336.5,63.2" fill="none" stroke="#888" stroke-width="1.0" stroke-linejoin="round" stroke-linecap="round" />
<circle cx="336.5" cy="63.2" r="1.3" fill="#222"/>
<polyline points="451.9,38.7 453.3,36 453.5,29" fill="none" stroke="#333" stroke-width="0.8" stroke-linejoin="round" stroke-linecap="round" />
<polygon points="453.5,27.5 451.8,31.5 455.2,31.5" fill="#111"/>
<polyline points="456.5,24.2 456.5,44.6" fill="none" stroke="#999" stroke-width="0.8" stroke-linejoin="round" stroke-linecap="round" />
<polyline points="461.8,24.2 461.8,44.6" fill="none" stroke="#999" stroke-width="0.8" stroke-linejoin="round" stroke-linecap="round" />
<polyline points="467.2,20.2 467.2,30" fill="none" stroke="#222" stroke-width="1.0" stroke-linejoin="round" stroke-linecap="round" />
<polygon points="467.2,27.5 465.4,22.5 469,22.5" fill="#111"/>
<polyline points="455,43.5 457.8,45.5 460,43.5" fill="none" stroke="#222" stroke-width="0.9" stroke-linejoin="round" stroke-linecap="round" />
<polyline points="470.6,20.2 470.6,53.7" fill="none" stroke="#2538f5" stroke-width="1.1" stroke-linejoin="round" stroke-linecap="round" />
<polyline points="335.5,104 336.5,102.3 341.8,97.5 347.8,91.6 353.7,87.5 360.8,85.1 367.3,83.3 367.3,73.3 373.8,70.9 380,69.7 382.2,69.3 402.9,63.4 415,61 424.8,58.8 439,56.2 454,54.7 470.6,53.7" fill="none" stroke="#2538f5" stroke-width="1.0" stroke-linejoin="round" stroke-linecap="round" />
<polygon points="368.24,71.08 366.51,74.15 369.96,74.15" fill="#2538f5"/>
<polygon points="372.55,69.49 370.83,72.56 374.28,72.56" fill="#2538f5"/>
<polygon points="377.01,68.4 375.29,71.48 378.74,71.48" fill="#2538f5"/>
<polygon points="381.53,67.55 379.81,70.62 383.26,70.62" fill="#2538f5"/>
<polygon points="385.97,66.35 384.24,69.43 387.69,69.43" fill="#2538f5"/>
<polygon points="390.39,65.09 388.67,68.16 392.12,68.16" fill="#2538f5"/>
<polygon points="394.82,63.83 393.09,66.9 396.54,66.9" fill="#2538f5"/>
<polygon points="399.24,62.57 397.52,65.64 400.97,65.64" fill="#2538f5"/>
<polygon points="403.68,61.37 401.96,64.45 405.41,64.45" fill="#2538f5"/>
<polygon points="408.19,60.48 406.47,63.55 409.92,63.55" fill="#2538f5"/>
<polygon points="412.7,59.58 410.98,62.66 414.43,62.66" fill="#2538f5"/>
<polygon points="417.2,58.63 415.48,61.71 418.93,61.71" fill="#2538f5"/>
<polygon points="421.69,57.62 419.97,60.7 423.42,60.7" fill="#2538f5"/>
<polygon points="426.19,56.67 424.47,59.74 427.92,59.74" fill="#2538f5"/>
<polygon points="430.72,55.84 428.99,58.92 432.44,58.92" fill="#2538f5"/>
<polygon points="435.24,55.01 433.52,58.09 436.97,58.09" fill="#2538f5"/>
<polygon points="439.78,54.25 438.05,57.32 441.5,57.32" fill="#2538f5"/>
<polygon points="444.35,53.79 442.63,56.86 446.08,56.86" fill="#2538f5"/>
<polygon points="448.93,53.33 447.21,56.41 450.66,56.41" fill="#2538f5"/>
<polygon points="453.51,52.87 451.78,55.95 455.23,55.95" fill="#2538f5"/>
<polygon points="458.1,52.58 456.37,55.65 459.82,55.65" fill="#2538f5"/>
<polygon points="462.69,52.3 460.96,55.38 464.41,55.38" fill="#2538f5"/>
<polygon points="467.28,52.02 465.56,55.1 469.01,55.1" fill="#2538f5"/>
<polygon points="337.98,99.08 336.26,102.16 339.71,102.16" fill="#2538f5"/>
<polygon points="342.05,95.38 340.32,98.45 343.77,98.45" fill="#2538f5"/>
<polygon points="345.97,91.52 344.25,94.6 347.7,94.6" fill="#2538f5"/>
<polygon points="350.21,88.05 348.48,91.13 351.93,91.13" fill="#2538f5"/>
<polygon points="354.88,85.22 353.16,88.3 356.61,88.3" fill="#2538f5"/>
<polygon points="360.09,83.46 358.37,86.54 361.82,86.54" fill="#2538f5"/>
<polygon points="365.38,81.96 363.66,85.03 367.11,85.03" fill="#2538f5"/>
<polyline points="335.5,105 335,84 335.5,52" fill="none" stroke="#2538f5" stroke-width="1.0" stroke-linejoin="round" stroke-linecap="round" />
<polyline points="338,84 337.6,60 337.1,52" fill="none" stroke="#2538f5" stroke-width="1.0" stroke-linejoin="round" stroke-linecap="round" />
<polyline points="334.6,100 334.8,133.2" fill="none" stroke="#2538f5" stroke-width="0.9" stroke-linejoin="round" stroke-linecap="round" />
<circle cx="334.8" cy="133.2" r="1.2" fill="#2538f5"/>
<polyline points="334.2,117.4 334.7,102.3 336.5,94 338.9,86.9 341.3,78.6 342.5,76.5 343.6,75.6 345.4,76.2 347.8,78.6 353.7,78.4 360.8,76.8 367.9,75 380,73.3 396.7,71.7 415,70.8 424,68.5 424.8,68.5 424.8,59.5 424.8,64 427,64 439,62.5 439,52 439,62 445,61.8 452.5,60.3 478,60.3 478,33.5" fill="none" stroke="#1f8f1f" stroke-width="1.0" stroke-linejoin="round" stroke-linecap="round" />
<circle cx="336.82" cy="93.05" r="1.3" fill="#1f8f1f"/>
<circle cx="338.2" cy="88.98" r="1.3" fill="#1f8f1f"/>
<circle cx="339.48" cy="84.88" r="1.3" fill="#1f8f1f"/>
<circle cx="340.68" cy="80.75" r="1.3" fill="#1f8f1f"/>
<circle cx="342.32" cy="76.81" r="1.3" fill="#1f8f1f"/>
<circle cx="345.84" cy="76.64" r="1.3" fill="#1f8f1f"/>
<circle cx="349.33" cy="78.55" r="1.3" fill="#1f8f1f"/>
<circle cx="353.63" cy="78.4" r="1.3" fill="#1f8f1f"/>
<circle cx="357.83" cy="77.47" r="1.3" fill="#1f8f1f"/>
<circle cx="362.01" cy="76.49" r="1.3" fill="#1f8f1f"/>
<circle cx="366.18" cy="75.44" r="1.3" fill="#1f8f1f"/>
<circle cx="370.4" cy="74.65" r="1.3" fill="#1f8f1f"/>
<circle cx="374.66" cy="74.05" r="1.3" fill="#1f8f1f"/>
<circle cx="378.92" cy="73.45" r="1.3" fill="#1f8f1f"/>
<circle cx="383.19" cy="72.99" r="1.3" fill="#1f8f1f"/>
<circle cx="387.47" cy="72.58" r="1.3" fill="#1f8f1f"/>
<circle cx="391.76" cy="72.17" r="1.3" fill="#1f8f1f"/>
<circle cx="396.04" cy="71.76" r="1.3" fill="#1f8f1f"/>
<circle cx="400.33" cy="71.52" r="1.3" fill="#1f8f1f"/>
<circle cx="404.62" cy="71.31" r="1.3" fill="#1f8f1f"/>
<circle cx="408.92" cy="71.1" r="1.3" fill="#1f8f1f"/>
<circle cx="413.21" cy="70.89" r="1.3" fill="#1f8f1f"/>
<circle cx="417.43" cy="70.18" r="1.3" fill="#1f8f1f"/>
<circle cx="421.6" cy="69.11" r="1.3" fill="#1f8f1f"/>
<circle cx="425.8" cy="64" r="1.3" fill="#1f8f1f"/>
<circle cx="430.08" cy="63.62" r="1.3" fill="#1f8f1f"/>
<circle cx="434.34" cy="63.08" r="1.3" fill="#1f8f1f"/>
<circle cx="438.61" cy="62.55" r="1.3" fill="#1f8f1f"/>
<circle cx="440" cy="61.97" r="1.3" fill="#1f8f1f"/>
<circle cx="444.3" cy="61.82" r="1.3" fill="#1f8f1f"/>
<circle cx="448.53" cy="61.09" r="1.3" fill="#1f8f1f"/>
<circle cx="452.75" cy="60.3" r="1.3" fill="#1f8f1f"/>
<circle cx="457.05" cy="60.3" r="1.3" fill="#1f8f1f"/>
<circle cx="461.35" cy="60.3" r="1.3" fill="#1f8f1f"/>
<circle cx="465.65" cy="60.3" r="1.3" fill="#1f8f1f"/>
<circle cx="469.95" cy="60.3" r="1.3" fill="#1f8f1f"/>
<circle cx="474.25" cy="60.3" r="1.3" fill="#1f8f1f"/>
<polyline points="337,37.1 335.6,55 334.6,68 334.3,84" fill="none" stroke="#ff1515" stroke-width="0.8" stroke-linejoin="round" stroke-linecap="round" />
<circle cx="334.3" cy="72.8" r="1.2" fill="#ff1515"/>
<circle cx="337" cy="39.5" r="1.3" fill="#ff1515"/>
<line x1="339.6" y1="134.9" x2="358.2" y2="134.9" stroke="#888" stroke-width="1.1" />
<circle cx="348.9" cy="134.9" r="1.3" fill="#000"/>
<text x="360.4" y="138.1" font-size="9.2" text-anchor="start" fill="#111" stroke="#111" >Icc 10mA</text>
<line x1="339.6" y1="146.25" x2="358.2" y2="146.25" stroke="#2538f5" stroke-width="1.1" />
<circle cx="348.9" cy="146.25" r="1.3" fill="#2538f5"/>
<text x="360.4" y="149.45" font-size="9.2" text-anchor="start" fill="#111" stroke="#111" >Icc 5mA</text>
<line x1="339.6" y1="157.6" x2="358.2" y2="157.6" stroke="#1f8f1f" stroke-width="1.1" />
<circle cx="348.9" cy="157.6" r="1.3" fill="#1f8f1f"/>
<text x="360.4" y="160.8" font-size="9.2" text-anchor="start" fill="#111" stroke="#111" >Icc 1mA</text>
<line x1="339.6" y1="168.95" x2="358.2" y2="168.95" stroke="#9a30ff" stroke-width="1.1" />
<circle cx="348.9" cy="168.95" r="1.3" fill="#9a30ff"/>
<text x="360.4" y="172.15" font-size="9.2" text-anchor="start" fill="#111" stroke="#111" >Reset 50mA</text>
<rect x="424.8" y="75.5" width="100.5" height="82" fill="white" stroke="#8a8a8a" stroke-width="0.9"/>
<line x1="434.4" y1="157.5" x2="434.4" y2="159.5" stroke="#2a2a2a" stroke-width="0.8" />
<text x="434.4" y="166.3" font-size="6.4" text-anchor="middle" fill="#111" stroke="#111" >0.0</text>
<line x1="461.8" y1="157.5" x2="461.8" y2="159.5" stroke="#2a2a2a" stroke-width="0.8" />
<text x="461.8" y="166.3" font-size="6.4" text-anchor="middle" fill="#111" stroke="#111" >0.5</text>
<line x1="489.2" y1="157.5" x2="489.2" y2="159.5" stroke="#2a2a2a" stroke-width="0.8" />
<text x="489.2" y="166.3" font-size="6.4" text-anchor="middle" fill="#111" stroke="#111" >1.0</text>
<line x1="516.6" y1="157.5" x2="516.6" y2="159.5" stroke="#2a2a2a" stroke-width="0.8" />
<text x="516.6" y="166.3" font-size="6.4" text-anchor="middle" fill="#111" stroke="#111" >1.5</text>
<line x1="422.8" y1="150.7" x2="424.8" y2="150.7" stroke="#2a2a2a" stroke-width="0.8" />
<text x="422" y="152.9" font-size="6.4" text-anchor="end" fill="#111" stroke="#111" >0.0</text>
<line x1="422.8" y1="123.98" x2="424.8" y2="123.98" stroke="#2a2a2a" stroke-width="0.8" />
<text x="422" y="126.18" font-size="6.4" text-anchor="end" fill="#111" stroke="#111" >0.4</text>
<line x1="422.8" y1="97.26" x2="424.8" y2="97.26" stroke="#2a2a2a" stroke-width="0.8" />
<text x="422" y="99.46" font-size="6.4" text-anchor="end" fill="#111" stroke="#111" >0.8</text>
<text x="475.3" y="174.6" font-size="7.4" text-anchor="middle" fill="#111" stroke="#111" >Voltage (V)</text>
<text transform="translate(410.4,118.8) rotate(-90)" font-size="7.4" text-anchor="middle" fill="#111" stroke="#111">Current (mA)</text>
<polyline points="434.4,150.7 439.8,89.5" fill="none" stroke="#ff1515" stroke-width="0.8" stroke-linejoin="round" stroke-linecap="round" stroke-dasharray="2,1"/>
<circle cx="435.75" cy="135.4" r="1.1" fill="#ff1515"/>
<circle cx="436.83" cy="123.16" r="1.1" fill="#ff1515"/>
<circle cx="438.18" cy="107.86" r="1.1" fill="#ff1515"/>
<circle cx="439.69" cy="90.72" r="1.1" fill="#ff1515"/>
<polyline points="439.8,89.5 441.5,77" fill="none" stroke="#666" stroke-width="0.7" stroke-linejoin="round" stroke-linecap="round" stroke-dasharray="1.5,1"/>
<polyline points="434.4,150.7 453.3,85 525.3,85" fill="none" stroke="#1f8f1f" stroke-width="0.8" stroke-linejoin="round" stroke-linecap="round" />
<circle cx="440.07" cy="130.99" r="1.1" fill="#1f8f1f"/>
<circle cx="444.8" cy="114.56" r="1.1" fill="#1f8f1f"/>
<circle cx="449.52" cy="98.14" r="1.1" fill="#1f8f1f"/>
<circle cx="453.3" cy="85" r="1.05" fill="#1f8f1f"/>
<circle cx="456.9" cy="85" r="1.05" fill="#1f8f1f"/>
<circle cx="460.5" cy="85" r="1.05" fill="#1f8f1f"/>
<circle cx="464.1" cy="85" r="1.05" fill="#1f8f1f"/>
<circle cx="467.7" cy="85" r="1.05" fill="#1f8f1f"/>
<circle cx="471.3" cy="85" r="1.05" fill="#1f8f1f"/>
<circle cx="474.9" cy="85" r="1.05" fill="#1f8f1f"/>
<circle cx="478.5" cy="85" r="1.05" fill="#1f8f1f"/>
<circle cx="482.1" cy="85" r="1.05" fill="#1f8f1f"/>
<circle cx="485.7" cy="85" r="1.05" fill="#1f8f1f"/>
<circle cx="489.3" cy="85" r="1.05" fill="#1f8f1f"/>
<circle cx="492.9" cy="85" r="1.05" fill="#1f8f1f"/>
<circle cx="496.5" cy="85" r="1.05" fill="#1f8f1f"/>
<circle cx="500.1" cy="85" r="1.05" fill="#1f8f1f"/>
<circle cx="503.7" cy="85" r="1.05" fill="#1f8f1f"/>
<circle cx="507.3" cy="85" r="1.05" fill="#1f8f1f"/>
<circle cx="510.9" cy="85" r="1.05" fill="#1f8f1f"/>
<circle cx="514.5" cy="85" r="1.05" fill="#1f8f1f"/>
<circle cx="518.1" cy="85" r="1.05" fill="#1f8f1f"/>
<circle cx="521.7" cy="85" r="1.05" fill="#1f8f1f"/>
<polyline points="434.4,150.7 473.6,76.5" fill="none" stroke="#2538f5" stroke-width="0.8" stroke-linejoin="round" stroke-linecap="round" />
<circle cx="439.5" cy="141.05" r="1.1" fill="#2538f5"/>
<circle cx="444.2" cy="132.15" r="1.1" fill="#2538f5"/>
<circle cx="448.9" cy="123.25" r="1.1" fill="#2538f5"/>
<circle cx="454" cy="113.6" r="1.1" fill="#2538f5"/>
<circle cx="458.7" cy="104.7" r="1.1" fill="#2538f5"/>
<circle cx="463.8" cy="95.05" r="1.1" fill="#2538f5"/>
<circle cx="468.5" cy="86.15" r="1.1" fill="#2538f5"/>
<polyline points="434.4,150.7 451.3,135.5 472.6,116.3 489.7,105.4 503.6,97.3 512,88 523.8,75.6" fill="none" stroke="#333" stroke-width="0.7" stroke-linejoin="round" stroke-linecap="round" />
<circle cx="503.5" cy="97.2" r="1.1" fill="#000"/>
<polyline points="434.4,150.7 525.3,150.2" fill="none" stroke="#1f8f1f" stroke-width="0.9" stroke-linejoin="round" stroke-linecap="round" />
<circle cx="437" cy="150.7" r="1.05" fill="#1f8f1f"/>
<circle cx="440.6" cy="150.7" r="1.05" fill="#1f8f1f"/>
<circle cx="444.2" cy="150.7" r="1.05" fill="#1f8f1f"/>
<circle cx="447.8" cy="150.7" r="1.05" fill="#1f8f1f"/>
<circle cx="451.4" cy="150.7" r="1.05" fill="#1f8f1f"/>
<circle cx="455" cy="150.7" r="1.05" fill="#1f8f1f"/>
<circle cx="458.6" cy="150.7" r="1.05" fill="#1f8f1f"/>
<circle cx="462.2" cy="150.7" r="1.05" fill="#1f8f1f"/>
<circle cx="465.8" cy="150.7" r="1.05" fill="#1f8f1f"/>
<circle cx="469.4" cy="150.7" r="1.05" fill="#1f8f1f"/>
<circle cx="473" cy="150.7" r="1.05" fill="#1f8f1f"/>
<circle cx="476.6" cy="150.7" r="1.05" fill="#1f8f1f"/>
<circle cx="480.2" cy="150.7" r="1.05" fill="#1f8f1f"/>
<circle cx="483.8" cy="150.7" r="1.05" fill="#1f8f1f"/>
<circle cx="487.4" cy="150.7" r="1.05" fill="#1f8f1f"/>
<circle cx="491" cy="150.7" r="1.05" fill="#1f8f1f"/>
<circle cx="494.6" cy="150.7" r="1.05" fill="#1f8f1f"/>
<circle cx="498.2" cy="150.7" r="1.05" fill="#1f8f1f"/>
<circle cx="501.8" cy="150.7" r="1.05" fill="#1f8f1f"/>
<circle cx="505.4" cy="150.7" r="1.05" fill="#2538f5"/>
<circle cx="509" cy="150.7" r="1.05" fill="#2538f5"/>
<circle cx="512.6" cy="150.7" r="1.05" fill="#2538f5"/>
<circle cx="516.2" cy="150.7" r="1.05" fill="#2538f5"/>
<circle cx="519.8" cy="150.7" r="1.05" fill="#2538f5"/>
<circle cx="523.4" cy="150.7" r="1.05" fill="#2538f5"/>
<circle cx="434.4" cy="150.7" r="1.3" fill="#2538f5"/>
<circle cx="437" cy="150.7" r="1.2" fill="#7030c0"/>
<text x="443.5" y="83" font-size="7.2" text-anchor="start" fill="#111" stroke="#111" >LRS 1</text>
<text x="471" y="94" font-size="7.2" text-anchor="start" fill="#1f8f1f" stroke="#1f8f1f" >LRS 3</text>
<text x="466" y="108.2" font-size="7.2" text-anchor="start" fill="#2538f5" stroke="#2538f5" >LRS 2</text>
<text x="476.8" y="132.8" font-size="7.2" text-anchor="start" fill="#111" stroke="#111" >Read @ 0.1V</text>
<line x1="46.3" y1="211.6" x2="261.6" y2="211.6" stroke="#6a6a6a" stroke-width="1.5" />
<line x1="46.3" y1="210.9" x2="46.3" y2="383.6" stroke="#6a6a6a" stroke-width="1.4" />
<line x1="261.6" y1="210.9" x2="261.6" y2="384.2" stroke="#6a6a6a" stroke-width="1.5" />
<line x1="45.7" y1="383.6" x2="262.3" y2="383.6" stroke="#444" stroke-width="1.3" />
<line x1="45.9" y1="383.6" x2="45.9" y2="385.6" stroke="#2a2a2a" stroke-width="1" />
<line x1="63.9" y1="383.6" x2="63.9" y2="386.8" stroke="#2a2a2a" stroke-width="1" />
<text x="63.9" y="397.6" font-size="10" text-anchor="middle" fill="#111" stroke="#111" >0</text>
<line x1="81.9" y1="383.6" x2="81.9" y2="385.6" stroke="#2a2a2a" stroke-width="1" />
<line x1="99.9" y1="383.6" x2="99.9" y2="386.8" stroke="#2a2a2a" stroke-width="1" />
<text x="99.9" y="397.6" font-size="10" text-anchor="middle" fill="#111" stroke="#111" >200</text>
<line x1="117.9" y1="383.6" x2="117.9" y2="385.6" stroke="#2a2a2a" stroke-width="1" />
<line x1="135.9" y1="383.6" x2="135.9" y2="386.8" stroke="#2a2a2a" stroke-width="1" />
<text x="135.9" y="397.6" font-size="10" text-anchor="middle" fill="#111" stroke="#111" >400</text>
<line x1="153.9" y1="383.6" x2="153.9" y2="385.6" stroke="#2a2a2a" stroke-width="1" />
<line x1="171.9" y1="383.6" x2="171.9" y2="386.8" stroke="#2a2a2a" stroke-width="1" />
<text x="171.9" y="397.6" font-size="10" text-anchor="middle" fill="#111" stroke="#111" >600</text>
<line x1="189.9" y1="383.6" x2="189.9" y2="385.6" stroke="#2a2a2a" stroke-width="1" />
<line x1="207.9" y1="383.6" x2="207.9" y2="386.8" stroke="#2a2a2a" stroke-width="1" />
<text x="207.9" y="397.6" font-size="10" text-anchor="middle" fill="#111" stroke="#111" >800</text>
<line x1="225.9" y1="383.6" x2="225.9" y2="385.6" stroke="#2a2a2a" stroke-width="1" />
<line x1="243.9" y1="383.6" x2="243.9" y2="386.8" stroke="#2a2a2a" stroke-width="1" />
<text x="243.9" y="397.6" font-size="10" text-anchor="middle" fill="#111" stroke="#111" >1000</text>
<line x1="261.9" y1="383.6" x2="261.9" y2="385.6" stroke="#2a2a2a" stroke-width="1" />
<line x1="43.1" y1="383.6" x2="46.3" y2="383.6" stroke="#2a2a2a" stroke-width="1" />
<text x="40.3" y="386.9" font-size="10" text-anchor="end" fill="#111" stroke="#111" >0</text>
<line x1="44.3" y1="375.23" x2="46.3" y2="375.23" stroke="#2a2a2a" stroke-width="1" />
<line x1="43.1" y1="366.85" x2="46.3" y2="366.85" stroke="#2a2a2a" stroke-width="1" />
<text x="40.3" y="370.15" font-size="10" text-anchor="end" fill="#111" stroke="#111" >100</text>
<line x1="44.3" y1="358.48" x2="46.3" y2="358.48" stroke="#2a2a2a" stroke-width="1" />
<line x1="43.1" y1="350.1" x2="46.3" y2="350.1" stroke="#2a2a2a" stroke-width="1" />
<text x="40.3" y="353.4" font-size="10" text-anchor="end" fill="#111" stroke="#111" >200</text>
<line x1="44.3" y1="341.73" x2="46.3" y2="341.73" stroke="#2a2a2a" stroke-width="1" />
<line x1="43.1" y1="333.35" x2="46.3" y2="333.35" stroke="#2a2a2a" stroke-width="1" />
<text x="40.3" y="336.65" font-size="10" text-anchor="end" fill="#111" stroke="#111" >300</text>
<line x1="44.3" y1="324.98" x2="46.3" y2="324.98" stroke="#2a2a2a" stroke-width="1" />
<line x1="43.1" y1="316.6" x2="46.3" y2="316.6" stroke="#2a2a2a" stroke-width="1" />
<text x="40.3" y="319.9" font-size="10" text-anchor="end" fill="#111" stroke="#111" >400</text>
<line x1="44.3" y1="308.23" x2="46.3" y2="308.23" stroke="#2a2a2a" stroke-width="1" />
<line x1="43.1" y1="248.6" x2="46.3" y2="248.6" stroke="#2a2a2a" stroke-width="1" />
<text x="40.3" y="251.9" font-size="10" text-anchor="end" fill="#111" stroke="#111" >20.0k</text>
<line x1="44.3" y1="286.8" x2="46.3" y2="286.8" stroke="#2a2a2a" stroke-width="1" />
<rect x="44.8" y="292.5" width="3" height="5" fill="white"/>
<line x1="43" y1="297.5" x2="50.2" y2="293.5" stroke="#2a2a2a" stroke-width="1.0" />
<line x1="43" y1="300.5" x2="50.2" y2="296.5" stroke="#2a2a2a" stroke-width="1.0" />
<text x="48" y="223.7" font-size="10.5" text-anchor="start" fill="#111" stroke="#111" >(c)</text>
<text x="154" y="411" font-size="10.8" text-anchor="middle" fill="#111" stroke="#111" >Time (s)</text>
<text transform="translate(10.0,304.6) rotate(-90)" font-size="10.6" text-anchor="middle" fill="#111" stroke="#111">Resistance (Ω)</text>
<line x1="126" y1="255.7" x2="146.5" y2="255.7" stroke="#222" stroke-width="1.0" />
<circle cx="136.2" cy="255.7" r="1.3" fill="#000"/>
<text x="149" y="258.9" font-size="9.2" text-anchor="start" fill="#111" stroke="#111" >LRS 1</text>
<line x1="126" y1="267.1" x2="146.5" y2="267.1" stroke="#ff6060" stroke-width="1.0" />
<circle cx="136.2" cy="267.1" r="1.3" fill="#ff1515"/>
<text x="149" y="270.3" font-size="9.2" text-anchor="start" fill="#111" stroke="#111" >LRS 2</text>
<line x1="126" y1="278.5" x2="146.5" y2="278.5" stroke="#4050ff" stroke-width="1.0" />
<circle cx="136.2" cy="278.5" r="1.3" fill="#2538f5"/>
<text x="149" y="281.7" font-size="9.2" text-anchor="start" fill="#111" stroke="#111" >LRS 3</text>
<line x1="126" y1="289.9" x2="146.5" y2="289.9" stroke="#ff20ff" stroke-width="1.0" />
<circle cx="136.2" cy="289.9" r="1.3" fill="#ff20ff"/>
<text x="149" y="293.1" font-size="9.2" text-anchor="start" fill="#111" stroke="#111" >HRS</text>
<text x="129.9" y="311.8" font-size="9.2" text-anchor="start" fill="#111" stroke="#111" >Read @0.1V</text>
<rect x="63.9" y="329.4" width="22.5" height="2.8" fill="#2538f5"/>
<line x1="86.4" y1="330.8" x2="243.9" y2="330.8" stroke="#2538f5" stroke-width="0.7" />
<circle cx="89" cy="330.8" r="1.15" fill="#2538f5"/>
<circle cx="92.82" cy="330.8" r="1.15" fill="#2538f5"/>
<circle cx="96.64" cy="330.8" r="1.15" fill="#2538f5"/>
<circle cx="100.46" cy="330.8" r="1.15" fill="#2538f5"/>
<circle cx="104.28" cy="330.8" r="1.15" fill="#2538f5"/>
<circle cx="108.1" cy="330.8" r="1.15" fill="#2538f5"/>
<circle cx="111.92" cy="330.8" r="1.15" fill="#2538f5"/>
<circle cx="115.74" cy="330.8" r="1.15" fill="#2538f5"/>
<circle cx="119.56" cy="330.8" r="1.15" fill="#2538f5"/>
<circle cx="123.38" cy="330.8" r="1.15" fill="#2538f5"/>
<circle cx="127.2" cy="330.8" r="1.15" fill="#2538f5"/>
<circle cx="131.02" cy="330.8" r="1.15" fill="#2538f5"/>
<circle cx="134.84" cy="330.8" r="1.15" fill="#2538f5"/>
<circle cx="138.66" cy="330.8" r="1.15" fill="#2538f5"/>
<circle cx="142.48" cy="330.8" r="1.15" fill="#2538f5"/>
<circle cx="146.3" cy="330.8" r="1.15" fill="#2538f5"/>
<circle cx="150.12" cy="330.8" r="1.15" fill="#2538f5"/>
<circle cx="153.94" cy="330.8" r="1.15" fill="#2538f5"/>
<circle cx="157.76" cy="330.8" r="1.15" fill="#2538f5"/>
<circle cx="161.58" cy="330.8" r="1.15" fill="#2538f5"/>
<circle cx="165.4" cy="330.8" r="1.15" fill="#2538f5"/>
<circle cx="169.22" cy="330.8" r="1.15" fill="#2538f5"/>
<circle cx="173.04" cy="330.8" r="1.15" fill="#2538f5"/>
<circle cx="176.86" cy="330.8" r="1.15" fill="#2538f5"/>
<circle cx="180.68" cy="330.8" r="1.15" fill="#2538f5"/>
<circle cx="184.5" cy="330.8" r="1.15" fill="#2538f5"/>
<circle cx="188.32" cy="330.8" r="1.15" fill="#2538f5"/>
<circle cx="192.14" cy="330.8" r="1.15" fill="#2538f5"/>
<circle cx="195.96" cy="330.8" r="1.15" fill="#2538f5"/>
<circle cx="199.78" cy="330.8" r="1.15" fill="#2538f5"/>
<circle cx="203.6" cy="330.8" r="1.15" fill="#2538f5"/>
<circle cx="207.42" cy="330.8" r="1.15" fill="#2538f5"/>
<circle cx="211.24" cy="330.8" r="1.15" fill="#2538f5"/>
<circle cx="215.06" cy="330.8" r="1.15" fill="#2538f5"/>
<circle cx="218.88" cy="330.8" r="1.15" fill="#2538f5"/>
<circle cx="222.7" cy="330.8" r="1.15" fill="#2538f5"/>
<circle cx="226.52" cy="330.8" r="1.15" fill="#2538f5"/>
<circle cx="230.34" cy="330.8" r="1.15" fill="#2538f5"/>
<circle cx="234.16" cy="330.8" r="1.15" fill="#2538f5"/>
<circle cx="237.98" cy="330.8" r="1.15" fill="#2538f5"/>
<circle cx="241.8" cy="330.8" r="1.15" fill="#2538f5"/>
<rect x="63.9" y="334.8" width="22.5" height="2.8" fill="#ff1515"/>
<line x1="86.4" y1="336.2" x2="243.9" y2="336.2" stroke="#ff1515" stroke-width="0.7" />
<circle cx="89" cy="336.2" r="1.15" fill="#ff1515"/>
<circle cx="92.82" cy="336.2" r="1.15" fill="#ff1515"/>
<circle cx="96.64" cy="336.2" r="1.15" fill="#ff1515"/>
<circle cx="100.46" cy="336.2" r="1.15" fill="#ff1515"/>
<circle cx="104.28" cy="336.2" r="1.15" fill="#ff1515"/>
<circle cx="108.1" cy="336.2" r="1.15" fill="#ff1515"/>
<circle cx="111.92" cy="336.2" r="1.15" fill="#ff1515"/>
<circle cx="115.74" cy="336.2" r="1.15" fill="#ff1515"/>
<circle cx="119.56" cy="336.2" r="1.15" fill="#ff1515"/>
<circle cx="123.38" cy="336.2" r="1.15" fill="#ff1515"/>
<circle cx="127.2" cy="336.2" r="1.15" fill="#ff1515"/>
<circle cx="131.02" cy="336.2" r="1.15" fill="#ff1515"/>
<circle cx="134.84" cy="336.2" r="1.15" fill="#ff1515"/>
<circle cx="138.66" cy="336.2" r="1.15" fill="#ff1515"/>
<circle cx="142.48" cy="336.2" r="1.15" fill="#ff1515"/>
<circle cx="146.3" cy="336.2" r="1.15" fill="#ff1515"/>
<circle cx="150.12" cy="336.2" r="1.15" fill="#ff1515"/>
<circle cx="153.94" cy="336.2" r="1.15" fill="#ff1515"/>
<circle cx="157.76" cy="336.2" r="1.15" fill="#ff1515"/>
<circle cx="161.58" cy="336.2" r="1.15" fill="#ff1515"/>
<circle cx="165.4" cy="336.2" r="1.15" fill="#ff1515"/>
<circle cx="169.22" cy="336.2" r="1.15" fill="#ff1515"/>
<circle cx="173.04" cy="336.2" r="1.15" fill="#ff1515"/>
<circle cx="176.86" cy="336.2" r="1.15" fill="#ff1515"/>
<circle cx="180.68" cy="336.2" r="1.15" fill="#ff1515"/>
<circle cx="184.5" cy="336.2" r="1.15" fill="#ff1515"/>
<circle cx="188.32" cy="336.2" r="1.15" fill="#ff1515"/>
<circle cx="192.14" cy="336.2" r="1.15" fill="#ff1515"/>
<circle cx="195.96" cy="336.2" r="1.15" fill="#ff1515"/>
<circle cx="199.78" cy="336.2" r="1.15" fill="#ff1515"/>
<circle cx="203.6" cy="336.2" r="1.15" fill="#ff1515"/>
<circle cx="207.42" cy="336.2" r="1.15" fill="#ff1515"/>
<circle cx="211.24" cy="336.2" r="1.15" fill="#ff1515"/>
<circle cx="215.06" cy="336.2" r="1.15" fill="#ff1515"/>
<circle cx="218.88" cy="336.2" r="1.15" fill="#ff1515"/>
<circle cx="222.7" cy="336.2" r="1.15" fill="#ff1515"/>
<circle cx="226.52" cy="336.2" r="1.15" fill="#ff1515"/>
<circle cx="230.34" cy="336.2" r="1.15" fill="#ff1515"/>
<circle cx="234.16" cy="336.2" r="1.15" fill="#ff1515"/>
<circle cx="237.98" cy="336.2" r="1.15" fill="#ff1515"/>
<circle cx="241.8" cy="336.2" r="1.15" fill="#ff1515"/>
<rect x="63.9" y="348" width="22.5" height="2.8" fill="#000"/>
<line x1="86.4" y1="349.4" x2="243.9" y2="349.4" stroke="#000" stroke-width="0.7" />
<circle cx="89" cy="349.4" r="1.15" fill="#000"/>
<circle cx="92.82" cy="349.4" r="1.15" fill="#000"/>
<circle cx="96.64" cy="349.4" r="1.15" fill="#000"/>
<circle cx="100.46" cy="349.4" r="1.15" fill="#000"/>
<circle cx="104.28" cy="349.4" r="1.15" fill="#000"/>
<circle cx="108.1" cy="349.4" r="1.15" fill="#000"/>
<circle cx="111.92" cy="349.4" r="1.15" fill="#000"/>
<circle cx="115.74" cy="349.4" r="1.15" fill="#000"/>
<circle cx="119.56" cy="349.4" r="1.15" fill="#000"/>
<circle cx="123.38" cy="349.4" r="1.15" fill="#000"/>
<circle cx="127.2" cy="349.4" r="1.15" fill="#000"/>
<circle cx="131.02" cy="349.4" r="1.15" fill="#000"/>
<circle cx="134.84" cy="349.4" r="1.15" fill="#000"/>
<circle cx="138.66" cy="349.4" r="1.15" fill="#000"/>
<circle cx="142.48" cy="349.4" r="1.15" fill="#000"/>
<circle cx="146.3" cy="349.4" r="1.15" fill="#000"/>
<circle cx="150.12" cy="349.4" r="1.15" fill="#000"/>
<circle cx="153.94" cy="349.4" r="1.15" fill="#000"/>
<circle cx="157.76" cy="349.4" r="1.15" fill="#000"/>
<circle cx="161.58" cy="349.4" r="1.15" fill="#000"/>
<circle cx="165.4" cy="349.4" r="1.15" fill="#000"/>
<circle cx="169.22" cy="349.4" r="1.15" fill="#000"/>
<circle cx="173.04" cy="349.4" r="1.15" fill="#000"/>
<circle cx="176.86" cy="349.4" r="1.15" fill="#000"/>
<circle cx="180.68" cy="349.4" r="1.15" fill="#000"/>
<circle cx="184.5" cy="349.4" r="1.15" fill="#000"/>
<circle cx="188.32" cy="349.4" r="1.15" fill="#000"/>
<circle cx="192.14" cy="349.4" r="1.15" fill="#000"/>
<circle cx="195.96" cy="349.4" r="1.15" fill="#000"/>
<circle cx="199.78" cy="349.4" r="1.15" fill="#000"/>
<circle cx="203.6" cy="349.4" r="1.15" fill="#000"/>
<circle cx="207.42" cy="349.4" r="1.15" fill="#000"/>
<circle cx="211.24" cy="349.4" r="1.15" fill="#000"/>
<circle cx="215.06" cy="349.4" r="1.15" fill="#000"/>
<circle cx="218.88" cy="349.4" r="1.15" fill="#000"/>
<circle cx="222.7" cy="349.4" r="1.15" fill="#000"/>
<circle cx="226.52" cy="349.4" r="1.15" fill="#000"/>
<circle cx="230.34" cy="349.4" r="1.15" fill="#000"/>
<circle cx="234.16" cy="349.4" r="1.15" fill="#000"/>
<circle cx="237.98" cy="349.4" r="1.15" fill="#000"/>
<circle cx="241.8" cy="349.4" r="1.15" fill="#000"/>
<rect x="63.9" y="222.6" width="22.3" height="9.9" fill="#ff20ff"/>
<polyline points="86.2,231.29 87.42,229.69 88.64,227.92 89.86,226.39 91.08,224.01 92.3,230.15 93.52,226.12 94.74,225.27 95.96,224.53 97.18,229.53 98.4,228.24 99.62,224.46 100.84,223.42 102.06,228.59 103.28,227.41 104.5,225.59 105.72,222.6 106.94,228.55 108.16,226.81 109.38,226.45 110.6,224.19 111.82,228.45 113.04,228.08 114.26,224.61 115.48,223.87 116.7,228.4 117.92,226.21 119.14,229.08 120.36,230.23 121.58,234.34 122.8,240.95 124.02,243.54 125.24,239.7 126.46,234.05 127.68,230.35 128.9,228.85 130.12,222.97 131.34,230.45 132.56,227.95 133.78,226.72 135,224.66 136.22,228.94 137.44,227.19 138.66,224.83 139.88,222.89 141.1,228.41 142.32,227.08 143.54,225.91 144.76,222.6 145.98,229.91 147.2,227.2 148.42,225.24 149.64,224.57 150.86,229.46 152.08,227.18 153.3,225.68 154.52,224.33 155.74,228.48 156.96,228.79 158.18,224.61 159.4,224.46 160.62,230.4 161.84,226.52 163.06,226.48 164.28,223.58 165.5,229.79 166.72,226.53 167.94,224.73 169.16,223.16 170.38,230.73 171.6,227.01 172.82,226.46 174.04,224.99 175.26,230.73 176.48,227.4 177.7,225.53 178.92,224.05 180.14,230.36 181.36,226.86 182.58,226.51 183.8,224.73 185.02,230.59 186.24,226.72 187.46,227.01 188.68,223.07 189.9,229.38 191.12,228.13 192.34,226.98 193.56,223.7 194.78,230.81 196,228.01 197.22,225.56 198.44,223.67 199.66,229.05 200.88,226.92 202.1,225.19 203.32,224.6 204.54,231.04 205.76,227.15 206.98,224.98 208.2,225.34 209.42,229.96 210.64,227.77 211.86,225.47 213.08,224.43 214.3,230.7 215.52,227.92 216.74,225.94 217.96,223.17 219.18,230.94 220.4,226.93 221.62,226.15 222.84,225.08 224.06,229.09 225.28,228.64 226.5,227.27 227.72,224.61 228.94,230.7 230.16,227.17 231.38,226.07 232.6,223.49 233.82,230.87 235.04,227.65 236.26,226.14 237.48,225.56 238.7,230.91 239.92,229.32 241.14,226.17 242.36,224.36 242.8,233.2" fill="none" stroke="#ff20ff" stroke-width="1.3" stroke-linejoin="round" stroke-linecap="round" />
<circle cx="86.2" cy="231.29" r="1.15" fill="#ff20ff"/>
<circle cx="88.64" cy="227.92" r="1.15" fill="#ff20ff"/>
<circle cx="91.08" cy="224.01" r="1.15" fill="#ff20ff"/>
<circle cx="93.52" cy="226.12" r="1.15" fill="#ff20ff"/>
<circle cx="95.96" cy="224.53" r="1.15" fill="#ff20ff"/>
<circle cx="98.4" cy="228.24" r="1.15" fill="#ff20ff"/>
<circle cx="100.84" cy="223.42" r="1.15" fill="#ff20ff"/>
<circle cx="103.28" cy="227.41" r="1.15" fill="#ff20ff"/>
<circle cx="105.72" cy="222.6" r="1.15" fill="#ff20ff"/>
<circle cx="108.16" cy="226.81" r="1.15" fill="#ff20ff"/>
<circle cx="110.6" cy="224.19" r="1.15" fill="#ff20ff"/>
<circle cx="113.04" cy="228.08" r="1.15" fill="#ff20ff"/>
<circle cx="115.48" cy="223.87" r="1.15" fill="#ff20ff"/>
<circle cx="117.92" cy="226.21" r="1.15" fill="#ff20ff"/>
<circle cx="120.36" cy="230.23" r="1.15" fill="#ff20ff"/>
<circle cx="122.8" cy="240.95" r="1.15" fill="#ff20ff"/>
<circle cx="125.24" cy="239.7" r="1.15" fill="#ff20ff"/>
<circle cx="127.68" cy="230.35" r="1.15" fill="#ff20ff"/>
<circle cx="130.12" cy="222.97" r="1.15" fill="#ff20ff"/>
<circle cx="132.56" cy="227.95" r="1.15" fill="#ff20ff"/>
<circle cx="135" cy="224.66" r="1.15" fill="#ff20ff"/>
<circle cx="137.44" cy="227.19" r="1.15" fill="#ff20ff"/>
<circle cx="139.88" cy="222.89" r="1.15" fill="#ff20ff"/>
<circle cx="142.32" cy="227.08" r="1.15" fill="#ff20ff"/>
<circle cx="144.76" cy="222.6" r="1.15" fill="#ff20ff"/>
<circle cx="147.2" cy="227.2" r="1.15" fill="#ff20ff"/>
<circle cx="149.64" cy="224.57" r="1.15" fill="#ff20ff"/>
<circle cx="152.08" cy="227.18" r="1.15" fill="#ff20ff"/>
<circle cx="154.52" cy="224.33" r="1.15" fill="#ff20ff"/>
<circle cx="156.96" cy="228.79" r="1.15" fill="#ff20ff"/>
<circle cx="159.4" cy="224.46" r="1.15" fill="#ff20ff"/>
<circle cx="161.84" cy="226.52" r="1.15" fill="#ff20ff"/>
<circle cx="164.28" cy="223.58" r="1.15" fill="#ff20ff"/>
<circle cx="166.72" cy="226.53" r="1.15" fill="#ff20ff"/>
<circle cx="169.16" cy="223.16" r="1.15" fill="#ff20ff"/>
<circle cx="171.6" cy="227.01" r="1.15" fill="#ff20ff"/>
<circle cx="174.04" cy="224.99" r="1.15" fill="#ff20ff"/>
<circle cx="176.48" cy="227.4" r="1.15" fill="#ff20ff"/>
<circle cx="178.92" cy="224.05" r="1.15" fill="#ff20ff"/>
<circle cx="181.36" cy="226.86" r="1.15" fill="#ff20ff"/>
<circle cx="183.8" cy="224.73" r="1.15" fill="#ff20ff"/>
<circle cx="186.24" cy="226.72" r="1.15" fill="#ff20ff"/>
<circle cx="188.68" cy="223.07" r="1.15" fill="#ff20ff"/>
<circle cx="191.12" cy="228.13" r="1.15" fill="#ff20ff"/>
<circle cx="193.56" cy="223.7" r="1.15" fill="#ff20ff"/>
<circle cx="196" cy="228.01" r="1.15" fill="#ff20ff"/>
<circle cx="198.44" cy="223.67" r="1.15" fill="#ff20ff"/>
<circle cx="200.88" cy="226.92" r="1.15" fill="#ff20ff"/>
<circle cx="203.32" cy="224.6" r="1.15" fill="#ff20ff"/>
<circle cx="205.76" cy="227.15" r="1.15" fill="#ff20ff"/>
<circle cx="208.2" cy="225.34" r="1.15" fill="#ff20ff"/>
<circle cx="210.64" cy="227.77" r="1.15" fill="#ff20ff"/>
<circle cx="213.08" cy="224.43" r="1.15" fill="#ff20ff"/>
<circle cx="215.52" cy="227.92" r="1.15" fill="#ff20ff"/>
<circle cx="217.96" cy="223.17" r="1.15" fill="#ff20ff"/>
<circle cx="220.4" cy="226.93" r="1.15" fill="#ff20ff"/>
<circle cx="222.84" cy="225.08" r="1.15" fill="#ff20ff"/>
<circle cx="225.28" cy="228.64" r="1.15" fill="#ff20ff"/>
<circle cx="227.72" cy="224.61" r="1.15" fill="#ff20ff"/>
<circle cx="230.16" cy="227.17" r="1.15" fill="#ff20ff"/>
<circle cx="232.6" cy="223.49" r="1.15" fill="#ff20ff"/>
<circle cx="235.04" cy="227.65" r="1.15" fill="#ff20ff"/>
<circle cx="237.48" cy="225.56" r="1.15" fill="#ff20ff"/>
<circle cx="239.92" cy="229.32" r="1.15" fill="#ff20ff"/>
<circle cx="242.36" cy="224.36" r="1.15" fill="#ff20ff"/>
<rect x="313.4" y="212.7" width="214.6" height="171.5" fill="none" stroke="#4a4a4a" stroke-width="1.3"/>
<line x1="316.13" y1="384.2" x2="316.13" y2="386" stroke="#2a2a2a" stroke-width="0.9" />
<line x1="320.39" y1="384.2" x2="320.39" y2="386" stroke="#2a2a2a" stroke-width="0.9" />
<line x1="323.98" y1="384.2" x2="323.98" y2="386" stroke="#2a2a2a" stroke-width="0.9" />
<line x1="327.1" y1="384.2" x2="327.1" y2="386" stroke="#2a2a2a" stroke-width="0.9" />
<line x1="329.84" y1="384.2" x2="329.84" y2="386" stroke="#2a2a2a" stroke-width="0.9" />
<line x1="332.3" y1="384.2" x2="332.3" y2="387.4" stroke="#2a2a2a" stroke-width="0.9" />
<line x1="348.47" y1="384.2" x2="348.47" y2="386" stroke="#2a2a2a" stroke-width="0.9" />
<line x1="357.92" y1="384.2" x2="357.92" y2="386" stroke="#2a2a2a" stroke-width="0.9" />
<line x1="364.63" y1="384.2" x2="364.63" y2="386" stroke="#2a2a2a" stroke-width="0.9" />
<line x1="369.83" y1="384.2" x2="369.83" y2="386" stroke="#2a2a2a" stroke-width="0.9" />
<line x1="374.09" y1="384.2" x2="374.09" y2="386" stroke="#2a2a2a" stroke-width="0.9" />
<line x1="377.68" y1="384.2" x2="377.68" y2="386" stroke="#2a2a2a" stroke-width="0.9" />
<line x1="380.8" y1="384.2" x2="380.8" y2="386" stroke="#2a2a2a" stroke-width="0.9" />
<line x1="383.54" y1="384.2" x2="383.54" y2="386" stroke="#2a2a2a" stroke-width="0.9" />
<line x1="386" y1="384.2" x2="386" y2="387.4" stroke="#2a2a2a" stroke-width="0.9" />
<line x1="402.17" y1="384.2" x2="402.17" y2="386" stroke="#2a2a2a" stroke-width="0.9" />
<line x1="411.62" y1="384.2" x2="411.62" y2="386" stroke="#2a2a2a" stroke-width="0.9" />
<line x1="418.33" y1="384.2" x2="418.33" y2="386" stroke="#2a2a2a" stroke-width="0.9" />
<line x1="423.53" y1="384.2" x2="423.53" y2="386" stroke="#2a2a2a" stroke-width="0.9" />
<line x1="427.79" y1="384.2" x2="427.79" y2="386" stroke="#2a2a2a" stroke-width="0.9" />
<line x1="431.38" y1="384.2" x2="431.38" y2="386" stroke="#2a2a2a" stroke-width="0.9" />
<line x1="434.5" y1="384.2" x2="434.5" y2="386" stroke="#2a2a2a" stroke-width="0.9" />
<line x1="437.24" y1="384.2" x2="437.24" y2="386" stroke="#2a2a2a" stroke-width="0.9" />
<line x1="439.7" y1="384.2" x2="439.7" y2="387.4" stroke="#2a2a2a" stroke-width="0.9" />
<line x1="455.87" y1="384.2" x2="455.87" y2="386" stroke="#2a2a2a" stroke-width="0.9" />
<line x1="465.32" y1="384.2" x2="465.32" y2="386" stroke="#2a2a2a" stroke-width="0.9" />
<line x1="472.03" y1="384.2" x2="472.03" y2="386" stroke="#2a2a2a" stroke-width="0.9" />
<line x1="477.23" y1="384.2" x2="477.23" y2="386" stroke="#2a2a2a" stroke-width="0.9" />
<line x1="481.49" y1="384.2" x2="481.49" y2="386" stroke="#2a2a2a" stroke-width="0.9" />
<line x1="485.08" y1="384.2" x2="485.08" y2="386" stroke="#2a2a2a" stroke-width="0.9" />
<line x1="488.2" y1="384.2" x2="488.2" y2="386" stroke="#2a2a2a" stroke-width="0.9" />
<line x1="490.94" y1="384.2" x2="490.94" y2="386" stroke="#2a2a2a" stroke-width="0.9" />
<line x1="493.4" y1="384.2" x2="493.4" y2="387.4" stroke="#2a2a2a" stroke-width="0.9" />
<line x1="509.57" y1="384.2" x2="509.57" y2="386" stroke="#2a2a2a" stroke-width="0.9" />
<line x1="519.02" y1="384.2" x2="519.02" y2="386" stroke="#2a2a2a" stroke-width="0.9" />
<line x1="525.73" y1="384.2" x2="525.73" y2="386" stroke="#2a2a2a" stroke-width="0.9" />
<text x="332.3" y="398.6" font-size="10" text-anchor="middle" fill="#111" stroke="#111" >1E-3</text>
<text x="386" y="398.6" font-size="10" text-anchor="middle" fill="#111" stroke="#111" >0.01</text>
<text x="439.7" y="398.6" font-size="10" text-anchor="middle" fill="#111" stroke="#111" >0.1</text>
<text x="493.4" y="398.6" font-size="10" text-anchor="middle" fill="#111" stroke="#111" >1</text>
<line x1="311.6" y1="383.61" x2="313.4" y2="383.61" stroke="#2a2a2a" stroke-width="0.9" />
<line x1="311.6" y1="380.57" x2="313.4" y2="380.57" stroke="#2a2a2a" stroke-width="0.9" />
<line x1="311.6" y1="378.22" x2="313.4" y2="378.22" stroke="#2a2a2a" stroke-width="0.9" />
<line x1="311.6" y1="376.29" x2="313.4" y2="376.29" stroke="#2a2a2a" stroke-width="0.9" />
<line x1="311.6" y1="374.66" x2="313.4" y2="374.66" stroke="#2a2a2a" stroke-width="0.9" />
<line x1="311.6" y1="373.25" x2="313.4" y2="373.25" stroke="#2a2a2a" stroke-width="0.9" />
<line x1="311.6" y1="372.01" x2="313.4" y2="372.01" stroke="#2a2a2a" stroke-width="0.9" />
<line x1="310.2" y1="370.9" x2="313.4" y2="370.9" stroke="#2a2a2a" stroke-width="0.9" />
<line x1="311.6" y1="363.58" x2="313.4" y2="363.58" stroke="#2a2a2a" stroke-width="0.9" />
<line x1="311.6" y1="359.31" x2="313.4" y2="359.31" stroke="#2a2a2a" stroke-width="0.9" />
<line x1="311.6" y1="356.27" x2="313.4" y2="356.27" stroke="#2a2a2a" stroke-width="0.9" />
<line x1="311.6" y1="353.92" x2="313.4" y2="353.92" stroke="#2a2a2a" stroke-width="0.9" />
<line x1="311.6" y1="351.99" x2="313.4" y2="351.99" stroke="#2a2a2a" stroke-width="0.9" />
<line x1="311.6" y1="350.36" x2="313.4" y2="350.36" stroke="#2a2a2a" stroke-width="0.9" />
<line x1="311.6" y1="348.95" x2="313.4" y2="348.95" stroke="#2a2a2a" stroke-width="0.9" />
<line x1="311.6" y1="347.71" x2="313.4" y2="347.71" stroke="#2a2a2a" stroke-width="0.9" />
<line x1="310.2" y1="346.6" x2="313.4" y2="346.6" stroke="#2a2a2a" stroke-width="0.9" />
<line x1="311.6" y1="339.28" x2="313.4" y2="339.28" stroke="#2a2a2a" stroke-width="0.9" />
<line x1="311.6" y1="335.01" x2="313.4" y2="335.01" stroke="#2a2a2a" stroke-width="0.9" />
<line x1="311.6" y1="331.97" x2="313.4" y2="331.97" stroke="#2a2a2a" stroke-width="0.9" />
<line x1="311.6" y1="329.62" x2="313.4" y2="329.62" stroke="#2a2a2a" stroke-width="0.9" />
<line x1="311.6" y1="327.69" x2="313.4" y2="327.69" stroke="#2a2a2a" stroke-width="0.9" />
<line x1="311.6" y1="326.06" x2="313.4" y2="326.06" stroke="#2a2a2a" stroke-width="0.9" />
<line x1="311.6" y1="324.65" x2="313.4" y2="324.65" stroke="#2a2a2a" stroke-width="0.9" />
<line x1="311.6" y1="323.41" x2="313.4" y2="323.41" stroke="#2a2a2a" stroke-width="0.9" />
<line x1="310.2" y1="322.3" x2="313.4" y2="322.3" stroke="#2a2a2a" stroke-width="0.9" />
<line x1="311.6" y1="314.98" x2="313.4" y2="314.98" stroke="#2a2a2a" stroke-width="0.9" />
<line x1="311.6" y1="310.71" x2="313.4" y2="310.71" stroke="#2a2a2a" stroke-width="0.9" />
<line x1="311.6" y1="307.67" x2="313.4" y2="307.67" stroke="#2a2a2a" stroke-width="0.9" />
<line x1="311.6" y1="305.32" x2="313.4" y2="305.32" stroke="#2a2a2a" stroke-width="0.9" />
<line x1="311.6" y1="303.39" x2="313.4" y2="303.39" stroke="#2a2a2a" stroke-width="0.9" />
<line x1="311.6" y1="301.76" x2="313.4" y2="301.76" stroke="#2a2a2a" stroke-width="0.9" />
<line x1="311.6" y1="300.35" x2="313.4" y2="300.35" stroke="#2a2a2a" stroke-width="0.9" />
<line x1="311.6" y1="299.11" x2="313.4" y2="299.11" stroke="#2a2a2a" stroke-width="0.9" />
<line x1="310.2" y1="298" x2="313.4" y2="298" stroke="#2a2a2a" stroke-width="0.9" />
<line x1="311.6" y1="290.68" x2="313.4" y2="290.68" stroke="#2a2a2a" stroke-width="0.9" />
<line x1="311.6" y1="286.41" x2="313.4" y2="286.41" stroke="#2a2a2a" stroke-width="0.9" />
<line x1="311.6" y1="283.37" x2="313.4" y2="283.37" stroke="#2a2a2a" stroke-width="0.9" />
<line x1="311.6" y1="281.02" x2="313.4" y2="281.02" stroke="#2a2a2a" stroke-width="0.9" />
<line x1="311.6" y1="279.09" x2="313.4" y2="279.09" stroke="#2a2a2a" stroke-width="0.9" />
<line x1="311.6" y1="277.46" x2="313.4" y2="277.46" stroke="#2a2a2a" stroke-width="0.9" />
<line x1="311.6" y1="276.05" x2="313.4" y2="276.05" stroke="#2a2a2a" stroke-width="0.9" />
<line x1="311.6" y1="274.81" x2="313.4" y2="274.81" stroke="#2a2a2a" stroke-width="0.9" />
<line x1="310.2" y1="273.7" x2="313.4" y2="273.7" stroke="#2a2a2a" stroke-width="0.9" />
<line x1="311.6" y1="266.38" x2="313.4" y2="266.38" stroke="#2a2a2a" stroke-width="0.9" />
<line x1="311.6" y1="262.11" x2="313.4" y2="262.11" stroke="#2a2a2a" stroke-width="0.9" />
<line x1="311.6" y1="259.07" x2="313.4" y2="259.07" stroke="#2a2a2a" stroke-width="0.9" />
<line x1="311.6" y1="256.72" x2="313.4" y2="256.72" stroke="#2a2a2a" stroke-width="0.9" />
<line x1="311.6" y1="254.79" x2="313.4" y2="254.79" stroke="#2a2a2a" stroke-width="0.9" />
<line x1="311.6" y1="253.16" x2="313.4" y2="253.16" stroke="#2a2a2a" stroke-width="0.9" />
<line x1="311.6" y1="251.75" x2="313.4" y2="251.75" stroke="#2a2a2a" stroke-width="0.9" />
<line x1="311.6" y1="250.51" x2="313.4" y2="250.51" stroke="#2a2a2a" stroke-width="0.9" />
<line x1="310.2" y1="249.4" x2="313.4" y2="249.4" stroke="#2a2a2a" stroke-width="0.9" />
<line x1="311.6" y1="242.08" x2="313.4" y2="242.08" stroke="#2a2a2a" stroke-width="0.9" />
<line x1="311.6" y1="237.81" x2="313.4" y2="237.81" stroke="#2a2a2a" stroke-width="0.9" />
<line x1="311.6" y1="234.77" x2="313.4" y2="234.77" stroke="#2a2a2a" stroke-width="0.9" />
<line x1="311.6" y1="232.42" x2="313.4" y2="232.42" stroke="#2a2a2a" stroke-width="0.9" />
<line x1="311.6" y1="230.49" x2="313.4" y2="230.49" stroke="#2a2a2a" stroke-width="0.9" />
<line x1="311.6" y1="228.86" x2="313.4" y2="228.86" stroke="#2a2a2a" stroke-width="0.9" />
<line x1="311.6" y1="227.45" x2="313.4" y2="227.45" stroke="#2a2a2a" stroke-width="0.9" />
<line x1="311.6" y1="226.21" x2="313.4" y2="226.21" stroke="#2a2a2a" stroke-width="0.9" />
<line x1="310.2" y1="225.1" x2="313.4" y2="225.1" stroke="#2a2a2a" stroke-width="0.9" />
<line x1="311.6" y1="217.78" x2="313.4" y2="217.78" stroke="#2a2a2a" stroke-width="0.9" />
<line x1="311.6" y1="213.51" x2="313.4" y2="213.51" stroke="#2a2a2a" stroke-width="0.9" />
<text x="307.6" y="228.5" font-size="9.6" text-anchor="end" fill="#111" stroke="#111">10<tspan font-size="6" dy="-4.2">-2</tspan></text>
<text x="307.6" y="252.8" font-size="9.6" text-anchor="end" fill="#111" stroke="#111">10<tspan font-size="6" dy="-4.2">-3</tspan></text>
<text x="307.6" y="277.1" font-size="9.6" text-anchor="end" fill="#111" stroke="#111">10<tspan font-size="6" dy="-4.2">-4</tspan></text>
<text x="307.6" y="301.4" font-size="9.6" text-anchor="end" fill="#111" stroke="#111">10<tspan font-size="6" dy="-4.2">-5</tspan></text>
<text x="307.6" y="325.7" font-size="9.6" text-anchor="end" fill="#111" stroke="#111">10<tspan font-size="6" dy="-4.2">-6</tspan></text>
<text x="307.6" y="350" font-size="9.6" text-anchor="end" fill="#111" stroke="#111">10<tspan font-size="6" dy="-4.2">-7</tspan></text>
<text x="307.6" y="374.3" font-size="9.6" text-anchor="end" fill="#111" stroke="#111">10<tspan font-size="6" dy="-4.2">-8</tspan></text>
<text x="315.6" y="225.6" font-size="10.5" text-anchor="start" fill="#111" stroke="#111" >(d)</text>
<line x1="329.2" y1="221.8" x2="344.5" y2="221.8" stroke="#ff8a8a" stroke-width="0.9" />
<circle cx="337" cy="221.8" r="1.3" fill="#ff1515"/>
<text x="347.2" y="224.8" font-size="9" text-anchor="start" fill="#111" stroke="#111" >Icc 5mA LRS 2</text>
<line x1="329.2" y1="233" x2="344.5" y2="233" stroke="#ff80ff" stroke-width="0.9" />
<circle cx="337" cy="233" r="1.3" fill="#ff20ff"/>
<text x="347.2" y="236" font-size="9" text-anchor="start" fill="#111" stroke="#111" >Reset 50mA</text>
<text x="402" y="417.4" font-size="10.8" text-anchor="start" fill="#111" stroke="#111" >Log</text>
<line x1="422.2" y1="408" x2="422.2" y2="418" stroke="#111" stroke-width="1.2" />
<text x="425.3" y="417.4" font-size="10.8" text-anchor="start" fill="#111" stroke="#111" >V</text>
<line x1="436.5" y1="408" x2="436.5" y2="418" stroke="#111" stroke-width="1.2" />
<g transform="translate(283.3,323.5) rotate(-90)" fill="#111" stroke="#111"><text x="0" y="0" font-size="10.8" fill="#111">Log</text><line x1="20.7" y1="-8.2" x2="20.7" y2="2" stroke="#111" stroke-width="1.2"/><text x="23.3" y="0" font-size="10.8" fill="#111">I</text><line x1="31.8" y1="-8.2" x2="31.8" y2="2" stroke="#111" stroke-width="1.2"/></g>
<polyline points="348.1,314.2 364.27,306.66 373.72,302.26 380.43,299.13 385.63,296.7 389.89,294.72 393.48,293.05 396.6,291.59 399.34,290.31 401.8,289.17 404.02,288.13 406.05,287.19" fill="none" stroke="#ff1515" stroke-width="0.8" stroke-linejoin="round" stroke-linecap="round" />
<circle cx="348.1" cy="314.2" r="1.3" fill="#ff1515"/>
<circle cx="364.27" cy="306.66" r="1.3" fill="#ff1515"/>
<circle cx="373.72" cy="302.26" r="1.3" fill="#ff1515"/>
<circle cx="380.43" cy="299.13" r="1.3" fill="#ff1515"/>
<circle cx="385.63" cy="296.7" r="1.3" fill="#ff1515"/>
<circle cx="389.89" cy="294.72" r="1.3" fill="#ff1515"/>
<circle cx="393.48" cy="293.05" r="1.3" fill="#ff1515"/>
<circle cx="396.6" cy="291.59" r="1.3" fill="#ff1515"/>
<circle cx="399.34" cy="290.31" r="1.3" fill="#ff1515"/>
<circle cx="401.8" cy="289.17" r="1.3" fill="#ff1515"/>
<polyline points="399.34,290.31 401.8,289.17 404.02,288.13 406.05,287.19 407.92,286.32 409.65,285.51 411.26,284.76 412.76,284.06 414.18,283.4 415.51,282.78 416.77,282.19 417.97,281.63 419.1,281.1 420.19,280.6 421.22,280.11 422.22,279.65 423.17,279.21 424.08,278.78 424.96,278.37 425.81,277.97 426.63,277.59 427.42,277.22 428.19,276.87 428.93,276.52 429.64,276.19 430.34,275.86 431.02,275.55 431.67,275.24 432.31,274.94 432.93,274.66 433.54,274.37 434.13,274.1 434.71,273.83 435.27,273.57 435.82,273.31 436.35,273.06 436.88,272.82 437.39,272.58 437.89,272.34 438.38,272.12 438.86,271.89 439.33,271.67 439.8,271.46 440.25,271.25 440.69,271.04 441.13,270.83 441.56,270.64 441.98,270.44 442.39,270.25 442.8,270.06 443.19,269.87 443.59,269.69 443.97,269.51 444.35,269.33 444.72,269.16 445.09,268.99 445.45,268.82 445.81,268.65 446.16,268.49 446.51,268.33 446.85,268.17 447.18,268.01 447.51,267.86 447.84,267.71 448.16,267.56 448.48,267.41 448.79,267.26 449.1,267.12 449.4,266.98 449.71,266.84 450,266.7 450.3,266.54 450.59,266.38 450.87,266.22 451.15,266.06 451.43,265.91 451.71,265.76 451.98,265.61 452.25,265.46 452.52,265.31 452.78,265.17 453.04,265.02 453.3,264.88 453.56,264.74 453.81,264.6 454.06,264.47 454.3,264.33 454.55,264.2 454.79,264.06 455.03,263.93 455.27,263.8 455.5,263.67 455.73,263.54 455.96,263.42 456.19,263.29 456.41,263.17 456.64,263.05 456.86,262.92 457.08,262.8 457.29,262.68 457.51,262.57 457.72,262.45 457.93,262.33 458.14,262.22 458.35,262.1 458.56,261.99 458.76,261.88 458.96,261.77 459.16,261.66 459.36,261.55 459.56,261.44 459.75,261.33 459.95,261.22 460.14,261.12 460.33,261.01 460.52,260.91 460.7,260.81 460.89,260.7 461.07,260.6 461.26,260.5 461.44,260.4 461.62,260.3 461.8,260.2 461.97,260.11 462.15,260.01 462.33,259.91 462.5,259.82 462.67,259.72 462.84,259.63 463.01,259.54 463.18,259.44 463.35,259.35 463.51,259.26 463.68,259.17 463.84,259.08 464,258.99 464.17,258.9 464.33,258.81 464.48,258.73 464.64,258.64 464.8,258.55 464.96,258.47 465.11,258.38 465.27,258.3 465.42,258.21 465.57,258.13 465.72,258.04 465.87,257.96 466.02,257.88 466.17,257.8 466.32,257.72 466.46,257.64 466.61,257.56 466.75,257.48 466.89,257.4 467.04,257.32 467.18,257.24 467.32,257.16 467.46,257.09 467.6,257.01 467.74,256.93 467.88,256.86 468.01,256.78 468.15,256.71 468.28,256.63 468.42,256.56 468.55,256.49 468.68,256.41 468.82,256.34 468.95,256.27 469.08,256.2 469.21,256.12 469.34,256.05 469.47,255.98 469.59,255.91 469.72,255.84 469.85,255.77 469.97,255.7 470.1,255.63 470.22,255.57 470.35,255.5 470.47,255.43 470.59,255.36 470.71,255.3 470.83,255.23 470.95,255.16 471.07,255.1 471.19,255.03 471.31,254.97 471.43,254.9 471.55,254.84 471.67,254.77 471.78,254.71 471.9,254.64 472.01,254.58 472.13,254.52 472.24,254.45 472.35,254.39 472.47,254.33 472.58,254.27 472.69,254.21 472.8,254.15 472.91,254.08 473.02,254.02 473.13,253.96 473.24,253.9 473.35,253.84 473.46,253.78 473.57,253.72 473.68,253.67 473.78,253.61 473.89,253.55 473.99,253.49 474.1,253.43 474.2,253.37 474.31,253.32 474.41,253.26 474.52,253.2 474.62,253.15 474.72,253.09 474.82,253.03 474.92,252.98 475.03,252.92 475.13,252.87 475.23,252.81 475.33,252.76 475.43,252.7 475.53,252.65 475.62,252.59 475.72,252.54 475.82,252.48 475.92,252.43 476.01,252.38 476.11,252.32 476.21,252.27 476.3,252.22 476.4,252.17 476.49,252.11 476.59,252.06 476.68,252.01 476.78,251.96 476.87,251.91 476.96,251.86 477.06,251.8 477.15,251.75 477.24,251.7 477.33,251.65 477.42,251.6 477.51,251.55 477.6,251.5 477.69,251.45 477.78,251.4 477.87,251.35 477.96,251.3 478.05,251.26 478.14,251.21 478.23,251.16 478.32,251.11 478.4,251.06 478.49,251.01 478.58,250.97 478.66,250.92 478.75,250.87 478.84,250.82 478.92,250.78 479.01,250.73 479.09,250.68 479.18,250.64 479.26,250.59 479.35,250.54 479.43,250.5 479.51,250.45 479.6,250.41 479.68,250.36 479.76,250.31 479.84,250.27 479.93,250.22 480.01,250.18 480.09,250.13 480.17,250.09 480.25,250.05 480.33,250 480.41,249.96 480.49,249.91 480.57,249.87 480.65,249.83 480.73,249.78 480.81,249.74 480.89,249.69 480.97,249.65 481.04,249.61 481.12,249.57 481.2,249.52 481.28,249.48 481.35,249.44 481.43,249.4 481.51,249.35 481.58,249.31 481.66,249.27 481.74,249.23 481.81,249.19 481.89,249.14 481.96,249.1 482.04,249.06 482.11,249.02 482.19,248.98 482.26,248.94 482.33,248.9 482.41,248.86 482.48,248.82 482.55,248.78 482.63,248.74 482.7,248.7 482.77,248.66 482.84,248.62 482.92,248.58 482.99,248.54 483.06,248.5 483.13,248.46 483.2,248.42 483.27,248.38 483.34,248.34 483.41,248.3 483.49,248.26 483.56,248.23 483.63,248.19 483.69,248.15 483.76,248.11 483.83,248.07 483.9,248.03 483.97,248 484.04,247.96 484.11,247.92 484.18,247.88 484.25,247.85 484.31,247.81 484.38,247.77 484.45,247.73 484.52,247.7 484.58,247.66 484.65,247.62 484.72,247.59 484.78,247.55 484.85,247.51 484.92,247.48 484.98,247.44 485.05,247.4 485.11,247.37 485.18,247.33 485.24,247.3 485.31,247.26 485.37,247.22 485.44,247.19 485.5,247.15 485.57,247.12 485.63,247.08 485.7,247.05 485.76,247.01 485.82,246.98 485.89,246.94 485.95,246.91 486.01,246.87 486.08,246.84 486.14,246.8 486.2,246.77 486.26,246.73 486.33,246.7 486.39,246.67 486.45,246.63 486.51,246.6 486.57,246.56 486.63,246.53 486.7,246.5 486.76,246.46 486.82,246.43 486.88,246.4 486.94,246.36 487,246.33 487.06,246.3 487.12,246.26 487.18,246.23 487.24,246.2 487.3,246.16 487.36,246.13 487.42,246.1 487.48,246.07 487.54,246.03 487.6,246 487.66,245.97 487.71,245.94 487.77,245.9 487.83,245.87 487.89,245.84 487.95,245.81 488,245.78 488.06,245.74 488.12,245.71 488.18,245.68 488.24,245.65 488.29,245.62 488.35,245.59 488.41,245.55 488.46,245.52 488.52,245.49 488.58,245.46 488.63,245.43 488.69,245.4 488.75,245.37 488.8,245.34 488.86,245.31 488.91,245.28 488.97,245.25 489.02,245.21 489.08,245.18 489.13,245.15 489.19,245.12 489.24,245.09 489.3,245.06 489.35,245.03 489.41,245 489.46,244.97 489.52,244.94 489.57,244.91 489.63,244.88 489.68,244.85 489.73,244.82 489.79,244.79 489.84,244.77 489.89,244.74 489.95,244.71 490,244.68 490.05,244.65 490.11,244.62 490.16,244.59 490.21,244.56 490.26,244.53 490.32,244.5 490.37,244.47 490.42,244.45 490.47,244.42 490.53,244.39 490.58,244.36 490.63,244.33 490.68,244.3 490.73,244.27 490.78,244.25 490.84,244.22 490.89,244.19 490.94,244.16 490.99,244.13 491.04,244.11 491.09,244.08 491.14,244.05 491.19,244.02 491.24,243.99 491.29,243.97 491.34,243.94 491.39,243.91 491.44,243.88 491.49,243.86 491.54,243.83 491.59,243.8 491.64,243.77 491.69,243.75 491.74,243.72 491.79,243.69 491.84,243.67 491.89,243.64 491.94,243.61 491.99,243.58 492.03,243.56 492.08,243.53 492.13,243.5 492.18,243.48 492.23,243.45 492.28,243.42 492.32,243.4 492.37,243.37 492.42,243.35 492.47,243.32 492.52,243.29 492.56,243.27 492.61,243.24 492.66,243.21 492.71,243.19 492.75,243.16 492.8,243.14 492.85,243.11 492.89,243.08 492.94,243.06 492.99,243.03 493.03,243.01 493.08,242.98 493.13,242.96 493.17,242.93 493.22,242.9 493.27,242.88 493.31,242.85 493.36,242.83 493.4,242.8 493.45,242.78 493.5,242.75 493.54,242.73 493.59,242.7 493.63,242.68 493.68,242.65 493.72,242.63 493.77,242.6 493.81,242.58 493.86,242.55 493.9,242.53 493.95,242.5 493.99,242.48 494.04,242.45 494.08,242.43 494.13,242.4 494.17,242.38 494.22,242.36 494.26,242.33 494.31,242.31 494.35,242.28 494.39,242.26 494.44,242.23 494.48,242.21 494.53,242.19 494.57,242.16 494.61,242.14 494.66,242.11 494.7,242.09 494.74,242.07 494.79,242.04 494.83,242.02 494.87,241.99 494.92,241.97 494.96,241.95 495,241.92 495.04,241.9 495.09,241.88 495.13,241.85 495.17,241.83 495.22,241.81 495.26,241.78 495.3,241.76 495.34,241.74 495.38,241.71 495.43,241.69 495.47,241.67 495.51,241.64 495.55,241.62 495.59,241.6 495.64,241.57 495.68,241.55 495.72,241.53 495.76,241.51 495.8,241.48 495.84,241.46 495.89,241.44 495.93,241.41 495.97,241.39 496.01,241.37 496.05,241.35 496.09,241.32 496.13,241.3 496.17,241.28 496.21,241.26 496.25,241.23 496.29,241.21 496.33,241.19 496.38,241.17 496.42,241.15 496.46,241.12 496.5,241.1 496.54,241.08 496.58,241.06 496.62,241.03 496.66,241.01 496.7,240.99 496.74,240.97 496.78,240.95 496.82,240.93 496.86,240.9 496.89,240.88 496.93,240.86 496.97,240.84 497.01,240.82 497.05,240.79 497.09,240.77 497.13,240.75 497.17,240.73 497.21,240.71 497.25,240.69 497.29,240.67 497.33,240.64 497.36,240.62 497.4,240.6 497.44,240.58 497.48,240.56 497.52,240.54 497.56,240.52 497.6,240.5 497.63,240.47 497.67,240.45 497.71,240.43 497.75,240.41 497.79,240.39 497.82,240.37 497.86,240.35 497.9,240.33 497.94,240.31 497.98,240.29 498.01,240.27 498.05,240.24 498.09,240.22 498.13,240.2 498.16,240.18 498.2,240.16 498.24,240.14 498.28,240.12 498.31,240.1 498.35,240.08 498.39,240.06 498.42,240.04 498.46,240.02 498.5,240 498.54,239.98 498.57,239.96 498.61,239.94 498.65,239.92 498.68,239.9 498.72,239.88 498.76,239.86 498.79,239.84 498.83,239.82 498.86,239.8 498.9,239.78 498.94,239.76 498.97,239.74 499.01,239.72 499.05,239.7 499.08,239.68 499.12,239.66 499.15,239.64 499.19,239.62 499.23,239.6 499.26,239.58 499.3,239.56 499.33,239.54 499.37,239.52 499.4,239.5 499.44,239.48 499.47,239.46 499.51,239.44 499.54,239.42 499.58,239.4 499.62,239.38 499.65,239.36 499.69,239.35 499.72,239.33 499.76,239.31 499.79,239.29 499.83,239.27 499.86,239.25 499.89,239.23 499.93,239.21 499.96,239.19 500,239.17 500.03,239.15 500.07,239.13 500.1,239.12 500.14,239.1 500.17,239.08 500.21,239.06 500.24,239.04 500.27,239.02 500.31,239 500.34,238.98 500.38,238.96 500.41,238.95 500.44,238.93 500.48,238.91 500.51,238.89 500.55,238.87 500.58,238.85 500.61,238.83 500.65,238.82 500.68,238.8 500.71,238.78 500.75,238.76 500.78,238.74 500.82,238.72 500.85,238.7 500.88,238.69 500.92,238.67 500.95,238.65 500.98,238.63 501.01,238.61 501.05,238.6 501.08,238.58 501.11,238.56 501.15,238.54 501.18,238.52 501.21,238.5 501.25,238.49 501.28,238.47 501.31,238.45 501.34,238.43 501.38,238.41 501.41,238.4 501.44,238.38 501.47,238.36 501.51,238.34 501.54,238.32 501.57,238.31 501.6,238.29 501.64,238.27 501.67,238.25 501.7,238.24 501.73,238.22 501.76,238.2 501.8,238.18 501.83,238.17 501.86,238.15 501.89,238.13 501.92,238.11 501.96,238.09 501.99,238.08 502.02,238.06 502.05,238.04 502.08,238.03 502.11,238.01 502.15,237.99 502.18,237.97 502.21,237.96 502.24,237.94 502.27,237.92 502.3,237.9 502.33,237.89 502.37,237.87 502.4,237.85 502.43,237.83 502.46,237.82 502.49,237.8 502.52,237.78 502.55,237.77 502.58,237.75 502.61,237.73 502.65,237.72 502.68,237.7 502.71,237.68 502.74,237.66 502.77,237.65 502.8,237.63 502.83,237.61 502.86,237.6 502.89,237.58 502.92,237.56 502.95,237.55 502.98,237.53 503.01,237.51 503.04,237.5 503.07,237.48 503.1,237.46 503.13,237.45 503.17,237.43 503.2,237.41 503.23,237.4 503.26,237.38 503.29,237.36 503.32,237.35 503.35,237.33 503.38,237.31 503.41,237.3 503.44,237.28 503.47,237.26 503.5,237.25 503.52,237.23 503.55,237.21 503.58,237.2 503.61,237.18 503.64,237.17 503.67,237.15 503.7,237.13 503.73,237.12 503.76,237.1 503.79,237.08 503.82,237.07 503.85,237.05 503.88,237.04 503.91,237.02 503.94,237 503.97,236.99 504,236.97 504.03,236.96 504.05,236.94 504.08,236.92 504.11,236.91 504.14,236.89 504.17,236.88 504.2,236.86 504.23,236.84 504.26,236.83 504.29,236.81 504.31,236.8 504.34,236.78 504.37,236.76 504.4,236.75 504.43,236.73 504.46,236.72 504.49,236.7 504.51,236.69 504.54,236.67 504.57,236.65 504.6,236.64 504.63,236.62 504.66,236.61 504.69,236.59 504.71,236.58 504.74,236.56 504.77,236.55 504.8,236.53 504.83,236.51 504.85,236.5 504.88,236.48 504.91,236.47 504.94,236.45 504.97,236.44 504.99,236.42 505.02,236.41 505.05,236.39 505.08,236.38 505.11,236.36 505.13,236.35 505.16,236.33 505.19,236.31 505.22,236.3 505.24,236.28 505.27,236.27 505.3,236.25 505.33,236.24 505.35,236.22 505.38,236.21 505.41,236.19 505.44,236.18 505.46,236.16 505.49,236.15 505.52,236.13 505.55,236.12 505.57,236.1 505.6,236.09 505.63,236.07 505.66,236.06 505.68,236.04 505.71,236.03 505.74,236.01 505.76,236 505.79,235.98 505.82,235.97 505.84,235.95 505.87,235.94 505.9,235.92 505.93,235.91 505.95,235.89 505.98,235.88 506.01,235.87 506.03,235.85 506.06,235.84 506.09,235.82 506.11,235.81 506.14,235.79 506.17,235.78 506.19,235.76 506.22,235.75 506.25,235.73 506.27,235.72 506.3,235.7 506.32,235.69 506.35,235.68 506.38,235.66 506.4,235.65 506.43,235.63 506.46,235.62 506.48,235.6 506.51,235.59 506.53,235.57 506.56,235.56 506.59,235.55 506.61,235.53 506.64,235.52 506.66,235.5 506.69,235.49 506.72,235.47 506.74,235.46 506.77,235.45 506.79,235.43 506.82,235.42 506.85,235.4 506.87,235.39 506.9,235.37 506.92,235.36 506.95,235.35 506.97,235.33 507,235.32 507.03,235.3 507.05,235.29 507.08,235.28 507.1,235.26 507.13,235.25 507.15,235.23 507.18,235.22 507.2,235.21 507.23,235.19 507.26,235.18 507.28,235.16 507.31,235.15 507.33,235.14 507.36,235.12 507.38,235.11 507.41,235.09 507.43,235.08 507.46,235.07 507.48,235.05 507.51,235.04 507.53,235.02 507.56,235.01 507.58,235 507.61,234.98 507.63,234.97 507.66,234.96 507.68,234.94 507.71,234.93 507.73,234.91 507.76,234.9 507.78,234.89 507.81,234.87 507.83,234.86 507.86,234.85 507.88,234.83 507.91,234.82 507.93,234.81 507.95,234.79 507.98,234.78 508,234.77 508.03,234.75 508.05,234.74 508.08,234.72 508.1,234.71 508.13,234.7 508.15,234.68 508.17,234.67 508.2,234.66 508.22,234.64 508.25,234.63 508.27,234.62 508.3,234.6 508.32,234.59 508.34,234.58 508.37,234.56 508.39,234.55 508.42,234.54 508.44,234.52 508.47,234.51 508.49,234.5 508.51,234.48 508.54,234.47 508.56,234.46 508.59,234.44 508.61,234.43 508.63,234.42 508.66,234.41 508.68,234.39 508.71,234.38 508.73,234.37 508.75,234.35 508.78,234.34 508.8,234.33 508.82,234.31 508.85,234.3 508.87,234.29 508.89,234.27 508.92,234.26 508.94,234.25 508.97,234.24 508.99,234.22 509.01,234.21 509.04,234.2 509.06,234.18 509.08,234.17 509.11,234.16 509.13,234.15 509.15,234.13 509.18,234.12 509.2,234.11 509.22,234.09 509.25,234.08 509.27,234.07 509.29,234.06 509.32,234.04 509.34,234.03 509.36,234.02 509.39,234 509.41,233.99 509.43,233.98 509.46,233.97 509.48,233.95 509.5,233.94 509.52,233.93 509.55,233.92 509.57,233.9 509.59,233.89 509.62,233.88 509.64,233.87 509.66,233.85 509.68,233.84 509.71,233.83 509.73,233.81 509.75,233.8 509.78,233.79 509.8,233.78 509.82,233.76 509.84,233.75 509.87,233.74 509.89,233.73 509.91,233.71 509.93,233.7 509.96,233.69 509.98,233.68 510,233.67 510.02,233.65 510.05,233.64 510.07,233.63 510.09,233.62 510.11,233.6 510.14,233.59 510.16,233.58 510.18,233.57 510.2,233.55 510.23,233.54 510.25,233.53 510.27,233.52 510.29,233.5 510.32,233.49 510.34,233.48 510.36,233.47 510.38,233.46 510.4,233.44 510.43,233.43 510.45,233.42 510.47,233.41 510.49,233.39 510.51,233.38 510.54,233.37 510.56,233.36 510.58,233.35 510.6,233.33 510.62,233.32 510.65,233.31 510.67,233.3 510.69,233.29 510.71,233.27 510.73,233.26 510.76,233.25 510.78,233.24 510.8,233.23 510.82,233.21 510.84,233.2 510.86,233.19 510.89,233.18 510.91,233.17 510.93,233.15 510.95,233.14 510.97,233.13 510.99,233.12 511.02,233.11 511.04,233.09 511.06,233.08 511.08,233.07 511.1,233.06 511.12,233.05 511.15,233.04 511.17,233.02 511.19,233.01 511.21,233 511.23,232.99 511.25,232.98 511.27,232.96 511.3,232.95 511.32,232.94 511.34,232.93 511.36,232.92 511.38,232.91 511.4,232.89 511.42,232.88 511.44,232.87 511.47,232.86 511.49,232.85 511.51,232.84 511.53,232.82 511.55,232.81 511.57,232.8 511.59,232.79 511.61,232.78 511.63,232.77 511.65,232.76 511.68,232.74 511.7,232.73 511.72,232.72 511.74,232.71 511.76,232.7 511.78,232.69 511.8,232.67 511.82,232.66 511.84,232.65 511.86,232.64 511.88,232.63 511.91,232.62 511.93,232.61 511.95,232.59 511.97,232.58 511.99,232.57 512.01,232.56 512.03,232.55 512.05,232.54 512.07,232.53 512.09,232.51 512.11,232.5 512.13,232.49 512.15,232.48 512.17,232.47 512.19,232.46 512.21,232.45 512.24,232.44 512.26,232.42 512.28,232.41 512.3,232.4 512.3,232.4 525.8,232" fill="none" stroke="#ff1515" stroke-width="2.7" stroke-linejoin="round" stroke-linecap="round" />
<line x1="519.8" y1="232" x2="519.8" y2="274" stroke="#ff8a8a" stroke-width="0.9" />
<polyline points="348.4,376.9 364.57,369.39 374.02,364.99 380.73,361.87 385.93,359.45 390.19,357.48 393.78,355.81 396.9,354.36 399.64,353.08 402.1,351.94 404.32,350.91 406.35,349.96" fill="none" stroke="#ff1515" stroke-width="0.8" stroke-linejoin="round" stroke-linecap="round" />
<circle cx="348.4" cy="376.9" r="1.3" fill="#ff1515"/>
<circle cx="364.57" cy="369.39" r="1.3" fill="#ff1515"/>
<circle cx="374.02" cy="364.99" r="1.3" fill="#ff1515"/>
<circle cx="380.73" cy="361.87" r="1.3" fill="#ff1515"/>
<circle cx="385.93" cy="359.45" r="1.3" fill="#ff1515"/>
<circle cx="390.19" cy="357.48" r="1.3" fill="#ff1515"/>
<circle cx="393.78" cy="355.81" r="1.3" fill="#ff1515"/>
<circle cx="396.9" cy="354.36" r="1.3" fill="#ff1515"/>
<circle cx="399.64" cy="353.08" r="1.3" fill="#ff1515"/>
<circle cx="402.1" cy="351.94" r="1.3" fill="#ff1515"/>
<polyline points="399.64,353.08 402.1,351.94 404.32,350.91 406.35,349.96 408.22,349.1 409.95,348.29 411.56,347.54 413.06,346.85 414.48,346.19 415.81,345.57 417.07,344.98 418.27,344.43 419.4,343.9 420.49,343.39 421.52,342.91 422.52,342.45 423.47,342.01 424.38,341.58 425.26,341.17 426.11,340.78 426.93,340.4 427.72,340.03 428.49,339.68 429.23,339.33 429.94,339 430.64,338.67 431.32,338.36 431.97,338.05 432.61,337.76 433.23,337.47 433.84,337.19 434.43,336.91 435.01,336.64 435.57,336.38 436.12,336.13 436.65,335.88 437.18,335.64 437.69,335.4 438.19,335.17 438.68,334.96 439.16,334.74 439.63,334.54 440.1,334.33 440.55,334.14 440.99,333.94 441.43,333.75 441.86,333.56 442.28,333.38 442.69,333.19 443.1,333.02 443.49,332.84 443.89,332.67 444.27,332.5 444.65,332.33 445.02,332.17 445.39,332.01 445.75,331.85 446.11,331.69 446.46,331.54 446.81,331.39 447.15,331.24 447.48,331.09 447.81,330.94 448.14,330.8 448.46,330.66 448.78,330.52 449.09,330.38 449.4,330.25 449.7,330.11 450.01,329.98 450.3,329.85 450.6,329.72 450.89,329.59 451.17,329.47 451.45,329.34 451.73,329.22 452.01,329.1 452.28,328.98 452.55,328.86 452.82,328.74 453.08,328.63 453.34,328.51 453.6,328.4 453.86,328.29 454.11,328.18 454.36,328.07 454.6,327.96 454.85,327.85 455.09,327.75 455.33,327.64 455.57,327.54 455.8,327.43 456.03,327.33 456.26,327.23 456.49,327.13 456.71,327.03 456.94,326.93 457.16,326.84 457.38,326.74 457.59,326.65 457.81,326.55 458.02,326.46 458.23,326.36 458.44,326.27 458.65,326.18 458.86,326.09 459.06,326 459.26,325.91 459.46,325.82 459.66,325.74 459.86,325.65 460.05,325.57 460.25,325.48 460.44,325.4 460.63,325.31 460.82,325.23 461,325.15 461.19,325.07 461.37,324.98 461.56,324.9 461.74,324.82 461.92,324.75 462.1,324.67 462.27,324.59 462.45,324.51 462.63,324.43 462.8,324.36 462.97,324.28 463.14,324.21 463.31,324.13 463.48,324.06 463.65,323.99 463.81,323.91 463.98,323.84 464.14,323.77 464.3,323.7 464.47,323.63 464.63,323.56 464.78,323.49 464.94,323.42 465.1,323.35 465.26,323.28 465.41,323.21 465.57,323.14 465.72,323.08 465.87,323.01 466.02,322.94 466.17,322.88 466.32,322.81 466.47,322.75 466.62,322.68 466.76,322.62 466.91,322.55 467.05,322.48 467.19,322.41 467.34,322.34 467.48,322.28 467.62,322.21 467.76,322.14 467.9,322.08 468.04,322.01 468.18,321.95 468.31,321.88 468.45,321.82 468.58,321.75 468.72,321.69 468.85,321.63 468.98,321.56 469.12,321.5 469.25,321.44 469.38,321.37 469.51,321.31 469.64,321.25 469.77,321.19 469.89,321.13 470.02,321.07 470.15,321.01 470.27,320.95 470.4,320.89 470.52,320.83 470.65,320.77 470.77,320.71 470.89,320.66 471.01,320.6 471.13,320.54 471.25,320.48 471.37,320.43 471.49,320.37 471.61,320.31 471.73,320.26 471.85,320.2 471.97,320.15 472.08,320.09 472.2,320.03 472.31,319.98 472.43,319.93 472.54,319.87 472.65,319.82 472.77,319.76 472.88,319.71 472.99,319.66 473.1,319.6 473.21,319.55 473.32,319.5 473.43,319.45 473.54,319.4 473.65,319.34 473.76,319.29 473.87,319.24 473.98,319.19 474.08,319.14 474.19,319.09 474.29,319.04 474.4,318.99 474.5,318.94 474.61,318.89 474.71,318.84 474.82,318.79 474.92,318.74 475.02,318.69 475.12,318.64 475.22,318.6 475.33,318.55 475.43,318.5 475.53,318.45 475.63,318.41 475.73,318.36 475.83,318.31 475.92,318.26 476.02,318.22 476.12,318.17 476.22,318.12 476.31,318.08 476.41,318.03 476.51,317.99 476.6,317.94 476.7,317.9 476.79,317.85 476.89,317.81 476.98,317.76 477.08,317.72 477.17,317.67 477.26,317.63 477.36,317.58 477.45,317.54 477.54,317.5 477.63,317.45 477.72,317.41 477.81,317.37 477.9,317.32 477.99,317.28 478.08,317.24 478.17,317.19 478.26,317.15 478.35,317.11 478.44,317.07 478.53,317.03 478.62,316.98 478.7,316.94 478.79,316.9 478.88,316.86 478.96,316.82 479.05,316.78 479.14,316.74 479.22,316.7 479.31,316.66 479.39,316.62 479.48,316.58 479.56,316.54 479.65,316.5 479.73,316.46 479.81,316.42 479.9,316.38 479.98,316.34 480.06,316.3 480.14,316.26 480.23,316.22 480.31,316.18 480.39,316.14 480.47,316.1 480.55,316.07 480.63,316.03 480.71,315.99 480.79,315.95 480.87,315.91 480.95,315.88 481.03,315.84 481.11,315.8 481.19,315.76 481.27,315.73 481.34,315.69 481.42,315.65 481.5,315.61 481.58,315.58 481.65,315.54 481.73,315.5 481.81,315.47 481.88,315.43 481.96,315.4 482.04,315.36 482.11,315.32 482.19,315.29 482.26,315.25 482.34,315.22 482.41,315.18 482.49,315.15 482.56,315.11 482.63,315.08 482.71,315.04 482.78,315.01 482.85,314.97 482.93,314.94 483,314.9 483.07,314.87 483.14,314.83 483.22,314.8 483.29,314.76 483.36,314.73 483.43,314.7 483.5,314.66 483.57,314.63 483.64,314.59 483.71,314.56 483.79,314.53 483.86,314.49 483.93,314.46 483.99,314.43 484.06,314.4 484.13,314.36 484.2,314.33 484.27,314.3 484.34,314.26 484.41,314.23 484.48,314.2 484.55,314.17 484.61,314.13 484.68,314.1 484.75,314.07 484.82,314.04 484.88,314.01 484.95,313.97 485.02,313.94 485.08,313.91 485.15,313.88 485.22,313.85 485.28,313.82 485.35,313.79 485.41,313.75 485.48,313.72 485.54,313.69 485.61,313.66 485.67,313.63 485.74,313.6 485.8,313.57 485.87,313.54 485.93,313.51 486,313.48 486.06,313.45 486.12,313.42 486.19,313.39 486.25,313.36 486.31,313.33 486.38,313.3 486.44,313.27 486.5,313.24 486.56,313.21 486.63,313.18 486.69,313.15 486.75,313.12 486.81,313.09 486.87,313.06 486.93,313.03 487,313" fill="none" stroke="#ff1515" stroke-width="2.3" stroke-linejoin="round" stroke-linecap="round" />
<circle cx="455" cy="327.3" r="1.6" fill="#ff1515"/>
<circle cx="462" cy="324.3" r="1.6" fill="#ff1515"/>
<circle cx="470" cy="321.5" r="1.6" fill="#ff1515"/>
<circle cx="476" cy="318.3" r="1.6" fill="#ff1515"/>
<circle cx="481" cy="316" r="1.6" fill="#ff1515"/>
<circle cx="444" cy="332.3" r="1.6" fill="#ff1515"/>
<circle cx="486" cy="313.2" r="1.6" fill="#ff1515"/>
<line x1="487.2" y1="313" x2="487.2" y2="299.8" stroke="#ff8a8a" stroke-width="0.9" />
<polyline points="487.3,299.8 491,297.5 496.8,294.1 500,291.5 504.4,288.4 508,284 512,279.9 516,276.5 520.5,274.2" fill="none" stroke="#ff1515" stroke-width="2.7" stroke-linejoin="round" stroke-linecap="round" />
<circle cx="487.6" cy="299.6" r="1.7" fill="#ff1515"/>
<circle cx="500" cy="291.6" r="1.7" fill="#ff1515"/>
<circle cx="505" cy="287.6" r="1.7" fill="#ff1515"/>
<circle cx="513" cy="279" r="1.7" fill="#ff1515"/>
<circle cx="519.5" cy="274.8" r="1.7" fill="#ff1515"/>
<polyline points="423.53,252.65 439.7,245.31 449.16,241.02 455.87,237.97 461.07,235.61 465.32,233.68 468.92,232.04 472.03,230.63 474.78,229.38 477.23,228.27 479.46,227.26 481.49,226.34 483.35,225.49 485.08,224.71 486.69,223.98 488.2,223.29 489.61,222.65 490.94,222.04 492.2,221.47 493.4,220.93 494.54,220.41 495.62,219.92 496.66,219.45 497.65,219 498.6,218.57 499.52,218.15 500.4,217.75 501.25,217.37 502.07,217 502.86,216.64 503.62,216.29 504.36,215.95 505.08,215.63 505.78,215.31 506.45,215" fill="none" stroke="#ff20ff" stroke-width="0.8" stroke-linejoin="round" stroke-linecap="round" />
<circle cx="423.53" cy="252.65" r="1.1" fill="#ff20ff"/>
<circle cx="439.7" cy="245.31" r="1.1" fill="#ff20ff"/>
<circle cx="449.16" cy="241.02" r="1.1" fill="#ff20ff"/>
<circle cx="455.87" cy="237.97" r="1.1" fill="#ff20ff"/>
<circle cx="461.07" cy="235.61" r="1.1" fill="#ff20ff"/>
<circle cx="465.32" cy="233.68" r="1.1" fill="#ff20ff"/>
<circle cx="468.92" cy="232.04" r="1.1" fill="#ff20ff"/>
<circle cx="472.03" cy="230.63" r="1.1" fill="#ff20ff"/>
<circle cx="474.78" cy="229.38" r="1.1" fill="#ff20ff"/>
<circle cx="477.23" cy="228.27" r="1.1" fill="#ff20ff"/>
<circle cx="479.46" cy="227.26" r="1.1" fill="#ff20ff"/>
<circle cx="481.49" cy="226.34" r="1.1" fill="#ff20ff"/>
<circle cx="483.35" cy="225.49" r="1.1" fill="#ff20ff"/>
<circle cx="485.08" cy="224.71" r="1.1" fill="#ff20ff"/>
<circle cx="486.69" cy="223.98" r="1.1" fill="#ff20ff"/>
<circle cx="488.2" cy="223.29" r="1.1" fill="#ff20ff"/>
<circle cx="489.61" cy="222.65" r="1.1" fill="#ff20ff"/>
<circle cx="490.94" cy="222.04" r="1.1" fill="#ff20ff"/>
<circle cx="492.2" cy="221.47" r="1.1" fill="#ff20ff"/>
<circle cx="493.4" cy="220.93" r="1.1" fill="#ff20ff"/>
<circle cx="494.54" cy="220.41" r="1.1" fill="#ff20ff"/>
<circle cx="495.62" cy="219.92" r="1.1" fill="#ff20ff"/>
<circle cx="496.66" cy="219.45" r="1.1" fill="#ff20ff"/>
<circle cx="497.65" cy="219" r="1.1" fill="#ff20ff"/>
<circle cx="498.6" cy="218.57" r="1.1" fill="#ff20ff"/>
<circle cx="499.52" cy="218.15" r="1.1" fill="#ff20ff"/>
<circle cx="500.4" cy="217.75" r="1.1" fill="#ff20ff"/>
<circle cx="501.25" cy="217.37" r="1.1" fill="#ff20ff"/>
<circle cx="502.07" cy="217" r="1.1" fill="#ff20ff"/>
<circle cx="502.86" cy="216.64" r="1.1" fill="#ff20ff"/>
<circle cx="503.62" cy="216.29" r="1.1" fill="#ff20ff"/>
<circle cx="504.36" cy="215.95" r="1.1" fill="#ff20ff"/>
<circle cx="505.08" cy="215.63" r="1.1" fill="#ff20ff"/>
<circle cx="505.78" cy="215.31" r="1.1" fill="#ff20ff"/>
<circle cx="506.45" cy="215" r="1.1" fill="#ff20ff"/>
<line x1="506.8" y1="215" x2="506.8" y2="245.6" stroke="#ff80ff" stroke-width="0.9" />
<polyline points="506.8,245.6 508.1,248.1 509.8,254.8 511,259 512.3,262.2 516.4,262.2 519.8,260.6 523.9,257.2 525.6,258.9" fill="none" stroke="#ff20ff" stroke-width="1.2" stroke-linejoin="round" stroke-linecap="round" />
<circle cx="506.8" cy="245.6" r="1.2" fill="#ff20ff"/>
<circle cx="508.1" cy="248.1" r="1.2" fill="#ff20ff"/>
<circle cx="509.8" cy="254.8" r="1.2" fill="#ff20ff"/>
<circle cx="511" cy="259" r="1.2" fill="#ff20ff"/>
<circle cx="512.3" cy="262.2" r="1.2" fill="#ff20ff"/>
<circle cx="516.4" cy="262.2" r="1.2" fill="#ff20ff"/>
<circle cx="519.8" cy="260.6" r="1.2" fill="#ff20ff"/>
<circle cx="523.9" cy="257.2" r="1.2" fill="#ff20ff"/>
<circle cx="525.6" cy="258.9" r="1.2" fill="#ff20ff"/>
<text x="424.7" y="265.2" font-size="9.2" text-anchor="middle" fill="#ff1515" stroke="#ff1515" >Ohmic</text>
<text x="424.9" y="273.2" font-size="9.2" text-anchor="middle" fill="#ff1515" stroke="#ff1515" >1.00</text>
<text x="451.5" y="227.3" font-size="9.2" text-anchor="middle" fill="#ff20ff" stroke="#ff20ff" >Ohmic</text>
<text x="449" y="235.4" font-size="9.2" text-anchor="middle" fill="#ff20ff" stroke="#ff20ff" >1.03</text>
<text x="489.7" y="281.2" font-size="9.2" text-anchor="middle" fill="#ff1515" stroke="#ff1515" >Schottky</text>
<text x="489.3" y="290.6" font-size="9.2" text-anchor="middle" fill="#ff1515" stroke="#ff1515" >1.95</text>
<text x="409.4" y="332.1" font-size="9.2" text-anchor="middle" fill="#ff1515" stroke="#ff1515" >Ohmic</text>
<text x="409.8" y="342.2" font-size="9.2" text-anchor="middle" fill="#ff1515" stroke="#ff1515" >1.00</text>
</svg></body></html>
